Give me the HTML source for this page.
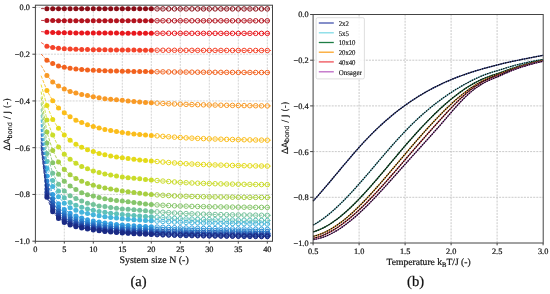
<!DOCTYPE html><html><head><meta charset="utf-8"><style>html,body{margin:0;padding:0;background:#fff;}svg{display:block;text-rendering:geometricPrecision;filter:blur(0.3px);}</style></head><body>
<svg width="550" height="294" viewBox="0 0 550 294">
<rect x="0" y="0" width="550" height="294" fill="#fff"/>
<g stroke="#c9c9c9" stroke-width="0.8" stroke-dasharray="2.0 1.1" fill="none"><line x1="64.3" y1="5.2" x2="64.3" y2="241.3"/><line x1="93.3" y1="5.2" x2="93.3" y2="241.3"/><line x1="122.3" y1="5.2" x2="122.3" y2="241.3"/><line x1="151.3" y1="5.2" x2="151.3" y2="241.3"/><line x1="180.3" y1="5.2" x2="180.3" y2="241.3"/><line x1="209.3" y1="5.2" x2="209.3" y2="241.3"/><line x1="238.3" y1="5.2" x2="238.3" y2="241.3"/><line x1="267.3" y1="5.2" x2="267.3" y2="241.3"/><line x1="35.4" y1="7.45" x2="272.5" y2="7.45"/><line x1="35.4" y1="54.2" x2="272.5" y2="54.2"/><line x1="35.4" y1="100.95" x2="272.5" y2="100.95"/><line x1="35.4" y1="147.7" x2="272.5" y2="147.7"/><line x1="35.4" y1="194.45" x2="272.5" y2="194.45"/></g>
<g stroke="#bcbcbc" stroke-width="0.8" stroke-dasharray="2.0 1.1" fill="none"><line x1="359.1" y1="14.5" x2="359.1" y2="243"/><line x1="405.1" y1="14.5" x2="405.1" y2="243"/><line x1="451.1" y1="14.5" x2="451.1" y2="243"/><line x1="497.1" y1="14.5" x2="497.1" y2="243"/><line x1="313.1" y1="60.2" x2="543.2" y2="60.2"/><line x1="313.1" y1="105.9" x2="543.2" y2="105.9"/><line x1="313.1" y1="151.6" x2="543.2" y2="151.6"/><line x1="313.1" y1="197.3" x2="543.2" y2="197.3"/></g>
<g><polyline points="41.1,8.6 46.9,8.7 52.7,8.72 58.5,8.74 64.3,8.76 70.1,8.77 75.9,8.78 81.7,8.79 87.5,8.79 93.3,8.8 99.1,8.81 104.9,8.81 110.7,8.82 116.5,8.83 122.3,8.83 128.1,8.84 133.9,8.85 139.7,8.85 145.5,8.86 151.3,8.86 157.1,8.86 162.9,8.87 168.7,8.87 174.5,8.87 180.3,8.88 186.1,8.88 191.9,8.88 197.7,8.88 203.5,8.89 209.3,8.89 215.1,8.89 220.9,8.89 226.7,8.89 232.5,8.89 238.3,8.89 244.1,8.9 249.9,8.9 255.7,8.9 261.5,8.9 267.3,8.9 271.07,8.9" fill="none" stroke="#8b0d17" stroke-width="0.85" stroke-dasharray="3.2 1.4"/><g fill="#8b0d17"><circle cx="46.9" cy="8.7" r="2.5"/><circle cx="52.7" cy="8.72" r="2.5"/><circle cx="58.5" cy="8.74" r="2.5"/><circle cx="64.3" cy="8.76" r="2.5"/><circle cx="70.1" cy="8.77" r="2.5"/><circle cx="75.9" cy="8.78" r="2.5"/><circle cx="81.7" cy="8.79" r="2.5"/><circle cx="87.5" cy="8.79" r="2.5"/><circle cx="93.3" cy="8.8" r="2.5"/><circle cx="99.1" cy="8.81" r="2.5"/><circle cx="104.9" cy="8.81" r="2.5"/><circle cx="110.7" cy="8.82" r="2.5"/><circle cx="116.5" cy="8.83" r="2.5"/><circle cx="122.3" cy="8.83" r="2.5"/><circle cx="128.1" cy="8.84" r="2.5"/><circle cx="133.9" cy="8.85" r="2.5"/><circle cx="139.7" cy="8.85" r="2.5"/><circle cx="145.5" cy="8.86" r="2.5"/><circle cx="151.3" cy="8.86" r="2.5"/></g><g fill="none" stroke="#8b0d17" stroke-width="1.0"><circle cx="157.1" cy="8.86" r="2.25"/><circle cx="162.9" cy="8.87" r="2.25"/><circle cx="168.7" cy="8.87" r="2.25"/><circle cx="174.5" cy="8.87" r="2.25"/><circle cx="180.3" cy="8.88" r="2.25"/><circle cx="186.1" cy="8.88" r="2.25"/><circle cx="191.9" cy="8.88" r="2.25"/><circle cx="197.7" cy="8.88" r="2.25"/><circle cx="203.5" cy="8.89" r="2.25"/><circle cx="209.3" cy="8.89" r="2.25"/><circle cx="215.1" cy="8.89" r="2.25"/><circle cx="220.9" cy="8.89" r="2.25"/><circle cx="226.7" cy="8.89" r="2.25"/><circle cx="232.5" cy="8.89" r="2.25"/><circle cx="238.3" cy="8.89" r="2.25"/><circle cx="244.1" cy="8.9" r="2.25"/><circle cx="249.9" cy="8.9" r="2.25"/><circle cx="255.7" cy="8.9" r="2.25"/><circle cx="261.5" cy="8.9" r="2.25"/><circle cx="267.3" cy="8.9" r="2.25"/></g><polyline points="41.1,20.4 46.9,20.6 52.7,20.62 58.5,20.64 64.3,20.66 70.1,20.67 75.9,20.68 81.7,20.69 87.5,20.69 93.3,20.7 99.1,20.71 104.9,20.71 110.7,20.72 116.5,20.73 122.3,20.73 128.1,20.74 133.9,20.75 139.7,20.75 145.5,20.76 151.3,20.76 157.1,20.76 162.9,20.77 168.7,20.77 174.5,20.77 180.3,20.78 186.1,20.78 191.9,20.78 197.7,20.78 203.5,20.79 209.3,20.79 215.1,20.79 220.9,20.79 226.7,20.79 232.5,20.79 238.3,20.79 244.1,20.8 249.9,20.8 255.7,20.8 261.5,20.8 267.3,20.8 271.07,20.8" fill="none" stroke="#b3141f" stroke-width="0.85" stroke-dasharray="3.2 1.4"/><g fill="#b3141f"><circle cx="46.9" cy="20.6" r="2.5"/><circle cx="52.7" cy="20.62" r="2.5"/><circle cx="58.5" cy="20.64" r="2.5"/><circle cx="64.3" cy="20.66" r="2.5"/><circle cx="70.1" cy="20.67" r="2.5"/><circle cx="75.9" cy="20.68" r="2.5"/><circle cx="81.7" cy="20.69" r="2.5"/><circle cx="87.5" cy="20.69" r="2.5"/><circle cx="93.3" cy="20.7" r="2.5"/><circle cx="99.1" cy="20.71" r="2.5"/><circle cx="104.9" cy="20.71" r="2.5"/><circle cx="110.7" cy="20.72" r="2.5"/><circle cx="116.5" cy="20.73" r="2.5"/><circle cx="122.3" cy="20.73" r="2.5"/><circle cx="128.1" cy="20.74" r="2.5"/><circle cx="133.9" cy="20.75" r="2.5"/><circle cx="139.7" cy="20.75" r="2.5"/><circle cx="145.5" cy="20.76" r="2.5"/><circle cx="151.3" cy="20.76" r="2.5"/></g><g fill="none" stroke="#b3141f" stroke-width="1.0"><circle cx="157.1" cy="20.76" r="2.25"/><circle cx="162.9" cy="20.77" r="2.25"/><circle cx="168.7" cy="20.77" r="2.25"/><circle cx="174.5" cy="20.77" r="2.25"/><circle cx="180.3" cy="20.78" r="2.25"/><circle cx="186.1" cy="20.78" r="2.25"/><circle cx="191.9" cy="20.78" r="2.25"/><circle cx="197.7" cy="20.78" r="2.25"/><circle cx="203.5" cy="20.79" r="2.25"/><circle cx="209.3" cy="20.79" r="2.25"/><circle cx="215.1" cy="20.79" r="2.25"/><circle cx="220.9" cy="20.79" r="2.25"/><circle cx="226.7" cy="20.79" r="2.25"/><circle cx="232.5" cy="20.79" r="2.25"/><circle cx="238.3" cy="20.79" r="2.25"/><circle cx="244.1" cy="20.8" r="2.25"/><circle cx="249.9" cy="20.8" r="2.25"/><circle cx="255.7" cy="20.8" r="2.25"/><circle cx="261.5" cy="20.8" r="2.25"/><circle cx="267.3" cy="20.8" r="2.25"/></g><polyline points="41.1,31.6 46.9,32.2 52.7,32.6 58.5,32.73 64.3,32.8 70.1,32.85 75.9,32.9 81.7,32.94 87.5,32.97 93.3,33 99.1,33.03 104.9,33.06 110.7,33.09 116.5,33.12 122.3,33.14 128.1,33.17 133.9,33.19 139.7,33.21 145.5,33.23 151.3,33.24 157.1,33.26 162.9,33.27 168.7,33.28 174.5,33.3 180.3,33.31 186.1,33.32 191.9,33.32 197.7,33.33 203.5,33.34 209.3,33.35 215.1,33.35 220.9,33.36 226.7,33.37 232.5,33.37 238.3,33.38 244.1,33.38 249.9,33.39 255.7,33.39 261.5,33.4 267.3,33.4 271.07,33.4" fill="none" stroke="#e8181e" stroke-width="0.85" stroke-dasharray="3.2 1.4"/><g fill="#e8181e"><circle cx="46.9" cy="32.2" r="2.5"/><circle cx="52.7" cy="32.6" r="2.5"/><circle cx="58.5" cy="32.73" r="2.5"/><circle cx="64.3" cy="32.8" r="2.5"/><circle cx="70.1" cy="32.85" r="2.5"/><circle cx="75.9" cy="32.9" r="2.5"/><circle cx="81.7" cy="32.94" r="2.5"/><circle cx="87.5" cy="32.97" r="2.5"/><circle cx="93.3" cy="33" r="2.5"/><circle cx="99.1" cy="33.03" r="2.5"/><circle cx="104.9" cy="33.06" r="2.5"/><circle cx="110.7" cy="33.09" r="2.5"/><circle cx="116.5" cy="33.12" r="2.5"/><circle cx="122.3" cy="33.14" r="2.5"/><circle cx="128.1" cy="33.17" r="2.5"/><circle cx="133.9" cy="33.19" r="2.5"/><circle cx="139.7" cy="33.21" r="2.5"/><circle cx="145.5" cy="33.23" r="2.5"/><circle cx="151.3" cy="33.24" r="2.5"/></g><g fill="none" stroke="#e8181e" stroke-width="1.0"><circle cx="157.1" cy="33.26" r="2.25"/><circle cx="162.9" cy="33.27" r="2.25"/><circle cx="168.7" cy="33.28" r="2.25"/><circle cx="174.5" cy="33.3" r="2.25"/><circle cx="180.3" cy="33.31" r="2.25"/><circle cx="186.1" cy="33.32" r="2.25"/><circle cx="191.9" cy="33.32" r="2.25"/><circle cx="197.7" cy="33.33" r="2.25"/><circle cx="203.5" cy="33.34" r="2.25"/><circle cx="209.3" cy="33.35" r="2.25"/><circle cx="215.1" cy="33.35" r="2.25"/><circle cx="220.9" cy="33.36" r="2.25"/><circle cx="226.7" cy="33.37" r="2.25"/><circle cx="232.5" cy="33.37" r="2.25"/><circle cx="238.3" cy="33.38" r="2.25"/><circle cx="244.1" cy="33.38" r="2.25"/><circle cx="249.9" cy="33.39" r="2.25"/><circle cx="255.7" cy="33.39" r="2.25"/><circle cx="261.5" cy="33.4" r="2.25"/><circle cx="267.3" cy="33.4" r="2.25"/></g><polyline points="41.1,42.5 46.9,46.2 52.7,47.5 58.5,48.2 64.3,48.7 70.1,49.1 75.9,49.34 81.7,49.5 87.5,49.61 93.3,49.7 99.1,49.78 104.9,49.85 110.7,49.92 116.5,49.97 122.3,50.02 128.1,50.06 133.9,50.1 139.7,50.14 145.5,50.17 151.3,50.2 157.1,50.23 162.9,50.25 168.7,50.27 174.5,50.3 180.3,50.31 186.1,50.33 191.9,50.35 197.7,50.37 203.5,50.38 209.3,50.4 215.1,50.41 220.9,50.42 226.7,50.43 232.5,50.44 238.3,50.45 244.1,50.46 249.9,50.47 255.7,50.48 261.5,50.49 267.3,50.5 271.07,50.5" fill="none" stroke="#f4432a" stroke-width="0.85" stroke-dasharray="3.2 1.4"/><g fill="#f4432a"><circle cx="46.9" cy="46.2" r="2.5"/><circle cx="52.7" cy="47.5" r="2.5"/><circle cx="58.5" cy="48.2" r="2.5"/><circle cx="64.3" cy="48.7" r="2.5"/><circle cx="70.1" cy="49.1" r="2.5"/><circle cx="75.9" cy="49.34" r="2.5"/><circle cx="81.7" cy="49.5" r="2.5"/><circle cx="87.5" cy="49.61" r="2.5"/><circle cx="93.3" cy="49.7" r="2.5"/><circle cx="99.1" cy="49.78" r="2.5"/><circle cx="104.9" cy="49.85" r="2.5"/><circle cx="110.7" cy="49.92" r="2.5"/><circle cx="116.5" cy="49.97" r="2.5"/><circle cx="122.3" cy="50.02" r="2.5"/><circle cx="128.1" cy="50.06" r="2.5"/><circle cx="133.9" cy="50.1" r="2.5"/><circle cx="139.7" cy="50.14" r="2.5"/><circle cx="145.5" cy="50.17" r="2.5"/><circle cx="151.3" cy="50.2" r="2.5"/></g><g fill="none" stroke="#f4432a" stroke-width="1.0"><circle cx="157.1" cy="50.23" r="2.25"/><circle cx="162.9" cy="50.25" r="2.25"/><circle cx="168.7" cy="50.27" r="2.25"/><circle cx="174.5" cy="50.3" r="2.25"/><circle cx="180.3" cy="50.31" r="2.25"/><circle cx="186.1" cy="50.33" r="2.25"/><circle cx="191.9" cy="50.35" r="2.25"/><circle cx="197.7" cy="50.37" r="2.25"/><circle cx="203.5" cy="50.38" r="2.25"/><circle cx="209.3" cy="50.4" r="2.25"/><circle cx="215.1" cy="50.41" r="2.25"/><circle cx="220.9" cy="50.42" r="2.25"/><circle cx="226.7" cy="50.43" r="2.25"/><circle cx="232.5" cy="50.44" r="2.25"/><circle cx="238.3" cy="50.45" r="2.25"/><circle cx="244.1" cy="50.46" r="2.25"/><circle cx="249.9" cy="50.47" r="2.25"/><circle cx="255.7" cy="50.48" r="2.25"/><circle cx="261.5" cy="50.49" r="2.25"/><circle cx="267.3" cy="50.5" r="2.25"/></g><polyline points="41.1,54 46.9,60.2 52.7,63.6 58.5,66 64.3,67.3 70.1,68.2 75.9,69 81.7,69.4 87.5,70 93.3,70.3 99.1,70.54 104.9,70.74 110.7,70.92 116.5,71.07 122.3,71.2 128.1,71.32 133.9,71.43 139.7,71.53 145.5,71.62 151.3,71.7 157.1,71.78 162.9,71.86 168.7,71.93 174.5,72 180.3,72.06 186.1,72.11 191.9,72.16 197.7,72.2 203.5,72.24 209.3,72.27 215.1,72.3 220.9,72.33 226.7,72.36 232.5,72.38 238.3,72.41 244.1,72.43 249.9,72.45 255.7,72.47 261.5,72.48 267.3,72.5 271.07,72.5" fill="none" stroke="#f2621e" stroke-width="0.85" stroke-dasharray="3.2 1.4"/><g fill="#f2621e"><circle cx="46.9" cy="60.2" r="2.5"/><circle cx="52.7" cy="63.6" r="2.5"/><circle cx="58.5" cy="66" r="2.5"/><circle cx="64.3" cy="67.3" r="2.5"/><circle cx="70.1" cy="68.2" r="2.5"/><circle cx="75.9" cy="69" r="2.5"/><circle cx="81.7" cy="69.4" r="2.5"/><circle cx="87.5" cy="70" r="2.5"/><circle cx="93.3" cy="70.3" r="2.5"/><circle cx="99.1" cy="70.54" r="2.5"/><circle cx="104.9" cy="70.74" r="2.5"/><circle cx="110.7" cy="70.92" r="2.5"/><circle cx="116.5" cy="71.07" r="2.5"/><circle cx="122.3" cy="71.2" r="2.5"/><circle cx="128.1" cy="71.32" r="2.5"/><circle cx="133.9" cy="71.43" r="2.5"/><circle cx="139.7" cy="71.53" r="2.5"/><circle cx="145.5" cy="71.62" r="2.5"/><circle cx="151.3" cy="71.7" r="2.5"/></g><g fill="none" stroke="#f2621e" stroke-width="1.0"><circle cx="157.1" cy="71.78" r="2.25"/><circle cx="162.9" cy="71.86" r="2.25"/><circle cx="168.7" cy="71.93" r="2.25"/><circle cx="174.5" cy="72" r="2.25"/><circle cx="180.3" cy="72.06" r="2.25"/><circle cx="186.1" cy="72.11" r="2.25"/><circle cx="191.9" cy="72.16" r="2.25"/><circle cx="197.7" cy="72.2" r="2.25"/><circle cx="203.5" cy="72.24" r="2.25"/><circle cx="209.3" cy="72.27" r="2.25"/><circle cx="215.1" cy="72.3" r="2.25"/><circle cx="220.9" cy="72.33" r="2.25"/><circle cx="226.7" cy="72.36" r="2.25"/><circle cx="232.5" cy="72.38" r="2.25"/><circle cx="238.3" cy="72.41" r="2.25"/><circle cx="244.1" cy="72.43" r="2.25"/><circle cx="249.9" cy="72.45" r="2.25"/><circle cx="255.7" cy="72.47" r="2.25"/><circle cx="261.5" cy="72.48" r="2.25"/><circle cx="267.3" cy="72.5" r="2.25"/></g><polyline points="41.1,65.4 46.9,75.4 52.7,82 58.5,86.1 64.3,89 70.1,91.4 75.9,93.1 81.7,94.6 87.5,95.6 93.3,96.7 99.1,97.8 104.9,98.7 110.7,99.29 116.5,99.8 122.3,100.35 128.1,100.9 133.9,101.47 139.7,102 145.5,102.43 151.3,102.8 157.1,103.14 162.9,103.46 168.7,103.74 174.5,103.98 180.3,104.2 186.1,104.39 191.9,104.55 197.7,104.7 203.5,104.84 209.3,104.97 215.1,105.09 220.9,105.21 226.7,105.31 232.5,105.41 238.3,105.51 244.1,105.6 249.9,105.68 255.7,105.76 261.5,105.83 267.3,105.9 271.07,105.9" fill="none" stroke="#f89a26" stroke-width="0.85" stroke-dasharray="3.2 1.4"/><g fill="#f89a26"><circle cx="46.9" cy="75.4" r="2.5"/><circle cx="52.7" cy="82" r="2.5"/><circle cx="58.5" cy="86.1" r="2.5"/><circle cx="64.3" cy="89" r="2.5"/><circle cx="70.1" cy="91.4" r="2.5"/><circle cx="75.9" cy="93.1" r="2.5"/><circle cx="81.7" cy="94.6" r="2.5"/><circle cx="87.5" cy="95.6" r="2.5"/><circle cx="93.3" cy="96.7" r="2.5"/><circle cx="99.1" cy="97.8" r="2.5"/><circle cx="104.9" cy="98.7" r="2.5"/><circle cx="110.7" cy="99.29" r="2.5"/><circle cx="116.5" cy="99.8" r="2.5"/><circle cx="122.3" cy="100.35" r="2.5"/><circle cx="128.1" cy="100.9" r="2.5"/><circle cx="133.9" cy="101.47" r="2.5"/><circle cx="139.7" cy="102" r="2.5"/><circle cx="145.5" cy="102.43" r="2.5"/><circle cx="151.3" cy="102.8" r="2.5"/></g><g fill="none" stroke="#f89a26" stroke-width="1.0"><circle cx="157.1" cy="103.14" r="2.25"/><circle cx="162.9" cy="103.46" r="2.25"/><circle cx="168.7" cy="103.74" r="2.25"/><circle cx="174.5" cy="103.98" r="2.25"/><circle cx="180.3" cy="104.2" r="2.25"/><circle cx="186.1" cy="104.39" r="2.25"/><circle cx="191.9" cy="104.55" r="2.25"/><circle cx="197.7" cy="104.7" r="2.25"/><circle cx="203.5" cy="104.84" r="2.25"/><circle cx="209.3" cy="104.97" r="2.25"/><circle cx="215.1" cy="105.09" r="2.25"/><circle cx="220.9" cy="105.21" r="2.25"/><circle cx="226.7" cy="105.31" r="2.25"/><circle cx="232.5" cy="105.41" r="2.25"/><circle cx="238.3" cy="105.51" r="2.25"/><circle cx="244.1" cy="105.6" r="2.25"/><circle cx="249.9" cy="105.68" r="2.25"/><circle cx="255.7" cy="105.76" r="2.25"/><circle cx="261.5" cy="105.83" r="2.25"/><circle cx="267.3" cy="105.9" r="2.25"/></g><polyline points="41.1,75.7 46.9,90.4 52.7,100.7 58.5,107.9 64.3,112.7 70.1,116.7 75.9,120.2 81.7,122.6 87.5,124.8 93.3,126.4 99.1,128.1 104.9,129.4 110.7,130.6 116.5,131.6 122.3,132.5 128.1,133.2 133.9,133.9 139.7,134.46 145.5,134.94 151.3,135.4 157.1,135.87 162.9,136.33 168.7,136.76 174.5,137.17 180.3,137.53 186.1,137.86 191.9,138.15 197.7,138.4 203.5,138.63 209.3,138.83 215.1,139.02 220.9,139.2 226.7,139.36 232.5,139.51 238.3,139.64 244.1,139.77 249.9,139.89 255.7,140 261.5,140.1 267.3,140.2 271.07,140.2" fill="none" stroke="#fbbd1b" stroke-width="0.85" stroke-dasharray="3.2 1.4"/><g fill="#fbbd1b"><circle cx="46.9" cy="90.4" r="2.5"/><circle cx="52.7" cy="100.7" r="2.5"/><circle cx="58.5" cy="107.9" r="2.5"/><circle cx="64.3" cy="112.7" r="2.5"/><circle cx="70.1" cy="116.7" r="2.5"/><circle cx="75.9" cy="120.2" r="2.5"/><circle cx="81.7" cy="122.6" r="2.5"/><circle cx="87.5" cy="124.8" r="2.5"/><circle cx="93.3" cy="126.4" r="2.5"/><circle cx="99.1" cy="128.1" r="2.5"/><circle cx="104.9" cy="129.4" r="2.5"/><circle cx="110.7" cy="130.6" r="2.5"/><circle cx="116.5" cy="131.6" r="2.5"/><circle cx="122.3" cy="132.5" r="2.5"/><circle cx="128.1" cy="133.2" r="2.5"/><circle cx="133.9" cy="133.9" r="2.5"/><circle cx="139.7" cy="134.46" r="2.5"/><circle cx="145.5" cy="134.94" r="2.5"/><circle cx="151.3" cy="135.4" r="2.5"/></g><g fill="none" stroke="#fbbd1b" stroke-width="1.0"><circle cx="157.1" cy="135.87" r="2.25"/><circle cx="162.9" cy="136.33" r="2.25"/><circle cx="168.7" cy="136.76" r="2.25"/><circle cx="174.5" cy="137.17" r="2.25"/><circle cx="180.3" cy="137.53" r="2.25"/><circle cx="186.1" cy="137.86" r="2.25"/><circle cx="191.9" cy="138.15" r="2.25"/><circle cx="197.7" cy="138.4" r="2.25"/><circle cx="203.5" cy="138.63" r="2.25"/><circle cx="209.3" cy="138.83" r="2.25"/><circle cx="215.1" cy="139.02" r="2.25"/><circle cx="220.9" cy="139.2" r="2.25"/><circle cx="226.7" cy="139.36" r="2.25"/><circle cx="232.5" cy="139.51" r="2.25"/><circle cx="238.3" cy="139.64" r="2.25"/><circle cx="244.1" cy="139.77" r="2.25"/><circle cx="249.9" cy="139.89" r="2.25"/><circle cx="255.7" cy="140" r="2.25"/><circle cx="261.5" cy="140.1" r="2.25"/><circle cx="267.3" cy="140.2" r="2.25"/></g><polyline points="41.1,84.59 46.9,105.6 52.7,119.5 58.5,128.3 64.3,134.9 70.1,140.3 75.9,144.3 81.7,147.3 87.5,149.8 93.3,151.6 99.1,153.4 104.9,154.8 110.7,155.9 116.5,156.9 122.3,157.8 128.1,158.6 133.9,159.3 139.7,159.92 145.5,160.47 151.3,161 157.1,161.53 162.9,162.04 168.7,162.52 174.5,162.97 180.3,163.37 186.1,163.72 191.9,164.03 197.7,164.3 203.5,164.53 209.3,164.75 215.1,164.94 220.9,165.12 226.7,165.28 232.5,165.43 238.3,165.56 244.1,165.69 249.9,165.8 255.7,165.91 261.5,166.01 267.3,166.1 271.07,166.1" fill="none" stroke="#e4da18" stroke-width="0.85" stroke-dasharray="3.2 1.4"/><g fill="#e4da18"><circle cx="46.9" cy="105.6" r="2.5"/><circle cx="52.7" cy="119.5" r="2.5"/><circle cx="58.5" cy="128.3" r="2.5"/><circle cx="64.3" cy="134.9" r="2.5"/><circle cx="70.1" cy="140.3" r="2.5"/><circle cx="75.9" cy="144.3" r="2.5"/><circle cx="81.7" cy="147.3" r="2.5"/><circle cx="87.5" cy="149.8" r="2.5"/><circle cx="93.3" cy="151.6" r="2.5"/><circle cx="99.1" cy="153.4" r="2.5"/><circle cx="104.9" cy="154.8" r="2.5"/><circle cx="110.7" cy="155.9" r="2.5"/><circle cx="116.5" cy="156.9" r="2.5"/><circle cx="122.3" cy="157.8" r="2.5"/><circle cx="128.1" cy="158.6" r="2.5"/><circle cx="133.9" cy="159.3" r="2.5"/><circle cx="139.7" cy="159.92" r="2.5"/><circle cx="145.5" cy="160.47" r="2.5"/><circle cx="151.3" cy="161" r="2.5"/></g><g fill="none" stroke="#e4da18" stroke-width="1.0"><circle cx="157.1" cy="161.53" r="2.25"/><circle cx="162.9" cy="162.04" r="2.25"/><circle cx="168.7" cy="162.52" r="2.25"/><circle cx="174.5" cy="162.97" r="2.25"/><circle cx="180.3" cy="163.37" r="2.25"/><circle cx="186.1" cy="163.72" r="2.25"/><circle cx="191.9" cy="164.03" r="2.25"/><circle cx="197.7" cy="164.3" r="2.25"/><circle cx="203.5" cy="164.53" r="2.25"/><circle cx="209.3" cy="164.75" r="2.25"/><circle cx="215.1" cy="164.94" r="2.25"/><circle cx="220.9" cy="165.12" r="2.25"/><circle cx="226.7" cy="165.28" r="2.25"/><circle cx="232.5" cy="165.43" r="2.25"/><circle cx="238.3" cy="165.56" r="2.25"/><circle cx="244.1" cy="165.69" r="2.25"/><circle cx="249.9" cy="165.8" r="2.25"/><circle cx="255.7" cy="165.91" r="2.25"/><circle cx="261.5" cy="166.01" r="2.25"/><circle cx="267.3" cy="166.1" r="2.25"/></g><polyline points="41.1,91.6 46.9,119.9 52.7,135 58.5,147 64.3,154.3 70.1,159.2 75.9,163.3 81.7,166.4 87.5,168.8 93.3,171.1 99.1,172.5 104.9,173.9 110.7,175 116.5,175.9 122.3,176.9 128.1,177.7 133.9,178.2 139.7,178.8 145.5,179.43 151.3,180 157.1,180.53 162.9,181.05 168.7,181.54 174.5,181.97 180.3,182.36 186.1,182.69 191.9,182.97 197.7,183.2 203.5,183.4 209.3,183.57 215.1,183.73 220.9,183.88 226.7,184 232.5,184.12 238.3,184.22 244.1,184.32 249.9,184.4 255.7,184.47 261.5,184.54 267.3,184.6 271.07,184.6" fill="none" stroke="#cadc2a" stroke-width="0.85" stroke-dasharray="3.2 1.4"/><g fill="#cadc2a"><circle cx="46.9" cy="119.9" r="2.5"/><circle cx="52.7" cy="135" r="2.5"/><circle cx="58.5" cy="147" r="2.5"/><circle cx="64.3" cy="154.3" r="2.5"/><circle cx="70.1" cy="159.2" r="2.5"/><circle cx="75.9" cy="163.3" r="2.5"/><circle cx="81.7" cy="166.4" r="2.5"/><circle cx="87.5" cy="168.8" r="2.5"/><circle cx="93.3" cy="171.1" r="2.5"/><circle cx="99.1" cy="172.5" r="2.5"/><circle cx="104.9" cy="173.9" r="2.5"/><circle cx="110.7" cy="175" r="2.5"/><circle cx="116.5" cy="175.9" r="2.5"/><circle cx="122.3" cy="176.9" r="2.5"/><circle cx="128.1" cy="177.7" r="2.5"/><circle cx="133.9" cy="178.2" r="2.5"/><circle cx="139.7" cy="178.8" r="2.5"/><circle cx="145.5" cy="179.43" r="2.5"/><circle cx="151.3" cy="180" r="2.5"/></g><g fill="none" stroke="#cadc2a" stroke-width="1.0"><circle cx="157.1" cy="180.53" r="2.25"/><circle cx="162.9" cy="181.05" r="2.25"/><circle cx="168.7" cy="181.54" r="2.25"/><circle cx="174.5" cy="181.97" r="2.25"/><circle cx="180.3" cy="182.36" r="2.25"/><circle cx="186.1" cy="182.69" r="2.25"/><circle cx="191.9" cy="182.97" r="2.25"/><circle cx="197.7" cy="183.2" r="2.25"/><circle cx="203.5" cy="183.4" r="2.25"/><circle cx="209.3" cy="183.57" r="2.25"/><circle cx="215.1" cy="183.73" r="2.25"/><circle cx="220.9" cy="183.88" r="2.25"/><circle cx="226.7" cy="184" r="2.25"/><circle cx="232.5" cy="184.12" r="2.25"/><circle cx="238.3" cy="184.22" r="2.25"/><circle cx="244.1" cy="184.32" r="2.25"/><circle cx="249.9" cy="184.4" r="2.25"/><circle cx="255.7" cy="184.47" r="2.25"/><circle cx="261.5" cy="184.54" r="2.25"/><circle cx="267.3" cy="184.6" r="2.25"/></g><polyline points="41.1,97.44 46.9,132 52.7,150.4 58.5,162 64.3,169.6 70.1,174.8 75.9,178.4 81.7,181.2 87.5,183.4 93.3,185.3 99.1,186.8 104.9,188.1 110.7,189.1 116.5,189.9 122.3,191 128.1,191.8 133.9,192.5 139.7,193.25 145.5,193.95 151.3,194.5 157.1,194.92 162.9,195.28 168.7,195.59 174.5,195.86 180.3,196.09 186.1,196.29 191.9,196.45 197.7,196.6 203.5,196.73 209.3,196.84 215.1,196.94 220.9,197.04 226.7,197.12 232.5,197.19 238.3,197.26 244.1,197.32 249.9,197.37 255.7,197.42 261.5,197.46 267.3,197.5 271.07,197.5" fill="none" stroke="#a8cf40" stroke-width="0.85" stroke-dasharray="3.2 1.4"/><g fill="#a8cf40"><circle cx="46.9" cy="132" r="2.5"/><circle cx="52.7" cy="150.4" r="2.5"/><circle cx="58.5" cy="162" r="2.5"/><circle cx="64.3" cy="169.6" r="2.5"/><circle cx="70.1" cy="174.8" r="2.5"/><circle cx="75.9" cy="178.4" r="2.5"/><circle cx="81.7" cy="181.2" r="2.5"/><circle cx="87.5" cy="183.4" r="2.5"/><circle cx="93.3" cy="185.3" r="2.5"/><circle cx="99.1" cy="186.8" r="2.5"/><circle cx="104.9" cy="188.1" r="2.5"/><circle cx="110.7" cy="189.1" r="2.5"/><circle cx="116.5" cy="189.9" r="2.5"/><circle cx="122.3" cy="191" r="2.5"/><circle cx="128.1" cy="191.8" r="2.5"/><circle cx="133.9" cy="192.5" r="2.5"/><circle cx="139.7" cy="193.25" r="2.5"/><circle cx="145.5" cy="193.95" r="2.5"/><circle cx="151.3" cy="194.5" r="2.5"/></g><g fill="none" stroke="#a8cf40" stroke-width="1.0"><circle cx="157.1" cy="194.92" r="2.25"/><circle cx="162.9" cy="195.28" r="2.25"/><circle cx="168.7" cy="195.59" r="2.25"/><circle cx="174.5" cy="195.86" r="2.25"/><circle cx="180.3" cy="196.09" r="2.25"/><circle cx="186.1" cy="196.29" r="2.25"/><circle cx="191.9" cy="196.45" r="2.25"/><circle cx="197.7" cy="196.6" r="2.25"/><circle cx="203.5" cy="196.73" r="2.25"/><circle cx="209.3" cy="196.84" r="2.25"/><circle cx="215.1" cy="196.94" r="2.25"/><circle cx="220.9" cy="197.04" r="2.25"/><circle cx="226.7" cy="197.12" r="2.25"/><circle cx="232.5" cy="197.19" r="2.25"/><circle cx="238.3" cy="197.26" r="2.25"/><circle cx="244.1" cy="197.32" r="2.25"/><circle cx="249.9" cy="197.37" r="2.25"/><circle cx="255.7" cy="197.42" r="2.25"/><circle cx="261.5" cy="197.46" r="2.25"/><circle cx="267.3" cy="197.5" r="2.25"/></g><polyline points="41.1,103.29 46.9,142.9 52.7,162.7 58.5,174.15 64.3,181.3 70.1,186.1 75.9,189.5 81.7,192.7 87.5,194.7 93.3,196.1 99.1,197.5 104.9,198.7 110.7,199.8 116.5,200.5 122.3,201.1 128.1,201.8 133.9,202.5 139.7,203.25 145.5,203.96 151.3,204.5 157.1,204.91 162.9,205.25 168.7,205.54 174.5,205.79 180.3,206.01 186.1,206.2 191.9,206.36 197.7,206.5 203.5,206.63 209.3,206.74 215.1,206.84 220.9,206.93 226.7,207.01 232.5,207.09 238.3,207.15 244.1,207.21 249.9,207.27 255.7,207.32 261.5,207.36 267.3,207.4 271.07,207.4" fill="none" stroke="#86c56a" stroke-width="0.85" stroke-dasharray="3.2 1.4"/><g fill="#86c56a"><circle cx="46.9" cy="142.9" r="2.5"/><circle cx="52.7" cy="162.7" r="2.5"/><circle cx="58.5" cy="174.15" r="2.5"/><circle cx="64.3" cy="181.3" r="2.5"/><circle cx="70.1" cy="186.1" r="2.5"/><circle cx="75.9" cy="189.5" r="2.5"/><circle cx="81.7" cy="192.7" r="2.5"/><circle cx="87.5" cy="194.7" r="2.5"/><circle cx="93.3" cy="196.1" r="2.5"/><circle cx="99.1" cy="197.5" r="2.5"/><circle cx="104.9" cy="198.7" r="2.5"/><circle cx="110.7" cy="199.8" r="2.5"/><circle cx="116.5" cy="200.5" r="2.5"/><circle cx="122.3" cy="201.1" r="2.5"/><circle cx="128.1" cy="201.8" r="2.5"/><circle cx="133.9" cy="202.5" r="2.5"/><circle cx="139.7" cy="203.25" r="2.5"/><circle cx="145.5" cy="203.96" r="2.5"/><circle cx="151.3" cy="204.5" r="2.5"/></g><g fill="none" stroke="#86c56a" stroke-width="1.0"><circle cx="157.1" cy="204.91" r="2.25"/><circle cx="162.9" cy="205.25" r="2.25"/><circle cx="168.7" cy="205.54" r="2.25"/><circle cx="174.5" cy="205.79" r="2.25"/><circle cx="180.3" cy="206.01" r="2.25"/><circle cx="186.1" cy="206.2" r="2.25"/><circle cx="191.9" cy="206.36" r="2.25"/><circle cx="197.7" cy="206.5" r="2.25"/><circle cx="203.5" cy="206.63" r="2.25"/><circle cx="209.3" cy="206.74" r="2.25"/><circle cx="215.1" cy="206.84" r="2.25"/><circle cx="220.9" cy="206.93" r="2.25"/><circle cx="226.7" cy="207.01" r="2.25"/><circle cx="232.5" cy="207.09" r="2.25"/><circle cx="238.3" cy="207.15" r="2.25"/><circle cx="244.1" cy="207.21" r="2.25"/><circle cx="249.9" cy="207.27" r="2.25"/><circle cx="255.7" cy="207.32" r="2.25"/><circle cx="261.5" cy="207.36" r="2.25"/><circle cx="267.3" cy="207.4" r="2.25"/></g><polyline points="41.1,109.13 46.9,153.5 52.7,173.23 58.5,184.14 64.3,190.9 70.1,195.7 75.9,198.4 81.7,201.1 87.5,203.2 93.3,204.6 99.1,205.9 104.9,206.6 110.7,207.6 116.5,208.2 122.3,208.9 128.1,209.3 133.9,209.7 139.7,210.26 145.5,210.87 151.3,211.4 157.1,211.86 162.9,212.28 168.7,212.66 174.5,213 180.3,213.3 186.1,213.57 191.9,213.8 197.7,214 203.5,214.17 209.3,214.33 215.1,214.48 220.9,214.6 226.7,214.72 232.5,214.83 238.3,214.93 244.1,215.01 249.9,215.1 255.7,215.17 261.5,215.24 267.3,215.3 271.07,215.3" fill="none" stroke="#74c29a" stroke-width="0.85" stroke-dasharray="3.2 1.4"/><g fill="#74c29a"><circle cx="46.9" cy="153.5" r="2.5"/><circle cx="52.7" cy="173.23" r="2.5"/><circle cx="58.5" cy="184.14" r="2.5"/><circle cx="64.3" cy="190.9" r="2.5"/><circle cx="70.1" cy="195.7" r="2.5"/><circle cx="75.9" cy="198.4" r="2.5"/><circle cx="81.7" cy="201.1" r="2.5"/><circle cx="87.5" cy="203.2" r="2.5"/><circle cx="93.3" cy="204.6" r="2.5"/><circle cx="99.1" cy="205.9" r="2.5"/><circle cx="104.9" cy="206.6" r="2.5"/><circle cx="110.7" cy="207.6" r="2.5"/><circle cx="116.5" cy="208.2" r="2.5"/><circle cx="122.3" cy="208.9" r="2.5"/><circle cx="128.1" cy="209.3" r="2.5"/><circle cx="133.9" cy="209.7" r="2.5"/><circle cx="139.7" cy="210.26" r="2.5"/><circle cx="145.5" cy="210.87" r="2.5"/><circle cx="151.3" cy="211.4" r="2.5"/></g><g fill="none" stroke="#74c29a" stroke-width="1.0"><circle cx="157.1" cy="211.86" r="2.25"/><circle cx="162.9" cy="212.28" r="2.25"/><circle cx="168.7" cy="212.66" r="2.25"/><circle cx="174.5" cy="213" r="2.25"/><circle cx="180.3" cy="213.3" r="2.25"/><circle cx="186.1" cy="213.57" r="2.25"/><circle cx="191.9" cy="213.8" r="2.25"/><circle cx="197.7" cy="214" r="2.25"/><circle cx="203.5" cy="214.17" r="2.25"/><circle cx="209.3" cy="214.33" r="2.25"/><circle cx="215.1" cy="214.48" r="2.25"/><circle cx="220.9" cy="214.6" r="2.25"/><circle cx="226.7" cy="214.72" r="2.25"/><circle cx="232.5" cy="214.83" r="2.25"/><circle cx="238.3" cy="214.93" r="2.25"/><circle cx="244.1" cy="215.01" r="2.25"/><circle cx="249.9" cy="215.1" r="2.25"/><circle cx="255.7" cy="215.17" r="2.25"/><circle cx="261.5" cy="215.24" r="2.25"/><circle cx="267.3" cy="215.3" r="2.25"/></g><polyline points="41.1,114.98 46.9,161.6 52.7,180.38 58.5,191.05 64.3,197.7 70.1,202.5 75.9,205.2 81.7,207.3 87.5,208.9 93.3,210.3 99.1,211.44 104.9,212.36 110.7,213.15 116.5,213.84 122.3,214.45 128.1,215 133.9,215.51 139.7,215.97 145.5,216.4 151.3,216.8 157.1,217.19 162.9,217.59 168.7,217.96 174.5,218.31 180.3,218.61 186.1,218.88 191.9,219.11 197.7,219.3 203.5,219.46 209.3,219.61 215.1,219.74 220.9,219.86 226.7,219.97 232.5,220.07 238.3,220.16 244.1,220.24 249.9,220.32 255.7,220.38 261.5,220.44 267.3,220.5 271.07,220.5" fill="none" stroke="#5fc1b8" stroke-width="0.85" stroke-dasharray="3.2 1.4"/><g fill="#5fc1b8"><circle cx="46.9" cy="161.6" r="2.5"/><circle cx="52.7" cy="180.38" r="2.5"/><circle cx="58.5" cy="191.05" r="2.5"/><circle cx="64.3" cy="197.7" r="2.5"/><circle cx="70.1" cy="202.5" r="2.5"/><circle cx="75.9" cy="205.2" r="2.5"/><circle cx="81.7" cy="207.3" r="2.5"/><circle cx="87.5" cy="208.9" r="2.5"/><circle cx="93.3" cy="210.3" r="2.5"/><circle cx="99.1" cy="211.44" r="2.5"/><circle cx="104.9" cy="212.36" r="2.5"/><circle cx="110.7" cy="213.15" r="2.5"/><circle cx="116.5" cy="213.84" r="2.5"/><circle cx="122.3" cy="214.45" r="2.5"/><circle cx="128.1" cy="215" r="2.5"/><circle cx="133.9" cy="215.51" r="2.5"/><circle cx="139.7" cy="215.97" r="2.5"/><circle cx="145.5" cy="216.4" r="2.5"/><circle cx="151.3" cy="216.8" r="2.5"/></g><g fill="none" stroke="#5fc1b8" stroke-width="1.0"><circle cx="157.1" cy="217.19" r="2.25"/><circle cx="162.9" cy="217.59" r="2.25"/><circle cx="168.7" cy="217.96" r="2.25"/><circle cx="174.5" cy="218.31" r="2.25"/><circle cx="180.3" cy="218.61" r="2.25"/><circle cx="186.1" cy="218.88" r="2.25"/><circle cx="191.9" cy="219.11" r="2.25"/><circle cx="197.7" cy="219.3" r="2.25"/><circle cx="203.5" cy="219.46" r="2.25"/><circle cx="209.3" cy="219.61" r="2.25"/><circle cx="215.1" cy="219.74" r="2.25"/><circle cx="220.9" cy="219.86" r="2.25"/><circle cx="226.7" cy="219.97" r="2.25"/><circle cx="232.5" cy="220.07" r="2.25"/><circle cx="238.3" cy="220.16" r="2.25"/><circle cx="244.1" cy="220.24" r="2.25"/><circle cx="249.9" cy="220.32" r="2.25"/><circle cx="255.7" cy="220.38" r="2.25"/><circle cx="261.5" cy="220.44" r="2.25"/><circle cx="267.3" cy="220.5" r="2.25"/></g><polyline points="41.1,119.65 46.9,168.4 52.7,186.55 58.5,196.81 64.3,203.2 70.1,207.8 75.9,210.3 81.7,212.15 87.5,213.59 93.3,214.8 99.1,215.83 104.9,216.7 110.7,217.45 116.5,218.11 122.3,218.69 128.1,219.2 133.9,219.66 139.7,220.08 145.5,220.46 151.3,220.8 157.1,221.12 162.9,221.43 168.7,221.72 174.5,221.99 180.3,222.23 186.1,222.44 191.9,222.63 197.7,222.8 203.5,222.95 209.3,223.09 215.1,223.21 220.9,223.33 226.7,223.44 232.5,223.54 238.3,223.63 244.1,223.71 249.9,223.79 255.7,223.87 261.5,223.94 267.3,224 271.07,224" fill="none" stroke="#44b5dc" stroke-width="0.85" stroke-dasharray="3.2 1.4"/><g fill="#44b5dc"><circle cx="46.9" cy="168.4" r="2.5"/><circle cx="52.7" cy="186.55" r="2.5"/><circle cx="58.5" cy="196.81" r="2.5"/><circle cx="64.3" cy="203.2" r="2.5"/><circle cx="70.1" cy="207.8" r="2.5"/><circle cx="75.9" cy="210.3" r="2.5"/><circle cx="81.7" cy="212.15" r="2.5"/><circle cx="87.5" cy="213.59" r="2.5"/><circle cx="93.3" cy="214.8" r="2.5"/><circle cx="99.1" cy="215.83" r="2.5"/><circle cx="104.9" cy="216.7" r="2.5"/><circle cx="110.7" cy="217.45" r="2.5"/><circle cx="116.5" cy="218.11" r="2.5"/><circle cx="122.3" cy="218.69" r="2.5"/><circle cx="128.1" cy="219.2" r="2.5"/><circle cx="133.9" cy="219.66" r="2.5"/><circle cx="139.7" cy="220.08" r="2.5"/><circle cx="145.5" cy="220.46" r="2.5"/><circle cx="151.3" cy="220.8" r="2.5"/></g><g fill="none" stroke="#44b5dc" stroke-width="1.0"><circle cx="157.1" cy="221.12" r="2.25"/><circle cx="162.9" cy="221.43" r="2.25"/><circle cx="168.7" cy="221.72" r="2.25"/><circle cx="174.5" cy="221.99" r="2.25"/><circle cx="180.3" cy="222.23" r="2.25"/><circle cx="186.1" cy="222.44" r="2.25"/><circle cx="191.9" cy="222.63" r="2.25"/><circle cx="197.7" cy="222.8" r="2.25"/><circle cx="203.5" cy="222.95" r="2.25"/><circle cx="209.3" cy="223.09" r="2.25"/><circle cx="215.1" cy="223.21" r="2.25"/><circle cx="220.9" cy="223.33" r="2.25"/><circle cx="226.7" cy="223.44" r="2.25"/><circle cx="232.5" cy="223.54" r="2.25"/><circle cx="238.3" cy="223.63" r="2.25"/><circle cx="244.1" cy="223.71" r="2.25"/><circle cx="249.9" cy="223.79" r="2.25"/><circle cx="255.7" cy="223.87" r="2.25"/><circle cx="261.5" cy="223.94" r="2.25"/><circle cx="267.3" cy="224" r="2.25"/></g><polyline points="41.1,124.33 46.9,176.12 52.7,194.38 58.5,203.74 64.3,209.41 70.1,213.23 75.9,216 81.7,218.08 87.5,219.69 93.3,220.99 99.1,222.06 104.9,222.96 110.7,223.73 116.5,224.39 122.3,224.95 128.1,225.43 133.9,225.85 139.7,226.21 145.5,226.53 151.3,226.82 157.1,227.07 162.9,227.29 168.7,227.49 174.5,227.67 180.3,227.83 186.1,227.98 191.9,228.12 197.7,228.25 203.5,228.37 209.3,228.48 215.1,228.59 220.9,228.69 226.7,228.78 232.5,228.87 238.3,228.95 244.1,229.03 249.9,229.1 255.7,229.17 261.5,229.24 267.3,229.31 271.07,229.31" fill="none" stroke="#34a0e0" stroke-width="0.85" stroke-dasharray="3.2 1.4"/><g fill="#34a0e0"><circle cx="46.9" cy="176.12" r="2.5"/><circle cx="52.7" cy="194.38" r="2.5"/><circle cx="58.5" cy="203.74" r="2.5"/><circle cx="64.3" cy="209.41" r="2.5"/><circle cx="70.1" cy="213.23" r="2.5"/><circle cx="75.9" cy="216" r="2.5"/><circle cx="81.7" cy="218.08" r="2.5"/><circle cx="87.5" cy="219.69" r="2.5"/><circle cx="93.3" cy="220.99" r="2.5"/><circle cx="99.1" cy="222.06" r="2.5"/><circle cx="104.9" cy="222.96" r="2.5"/><circle cx="110.7" cy="223.73" r="2.5"/><circle cx="116.5" cy="224.39" r="2.5"/><circle cx="122.3" cy="224.95" r="2.5"/><circle cx="128.1" cy="225.43" r="2.5"/><circle cx="133.9" cy="225.85" r="2.5"/><circle cx="139.7" cy="226.21" r="2.5"/><circle cx="145.5" cy="226.53" r="2.5"/><circle cx="151.3" cy="226.82" r="2.5"/></g><g fill="none" stroke="#34a0e0" stroke-width="1.0"><circle cx="157.1" cy="227.07" r="2.25"/><circle cx="162.9" cy="227.29" r="2.25"/><circle cx="168.7" cy="227.49" r="2.25"/><circle cx="174.5" cy="227.67" r="2.25"/><circle cx="180.3" cy="227.83" r="2.25"/><circle cx="186.1" cy="227.98" r="2.25"/><circle cx="191.9" cy="228.12" r="2.25"/><circle cx="197.7" cy="228.25" r="2.25"/><circle cx="203.5" cy="228.37" r="2.25"/><circle cx="209.3" cy="228.48" r="2.25"/><circle cx="215.1" cy="228.59" r="2.25"/><circle cx="220.9" cy="228.69" r="2.25"/><circle cx="226.7" cy="228.78" r="2.25"/><circle cx="232.5" cy="228.87" r="2.25"/><circle cx="238.3" cy="228.95" r="2.25"/><circle cx="244.1" cy="229.03" r="2.25"/><circle cx="249.9" cy="229.1" r="2.25"/><circle cx="255.7" cy="229.17" r="2.25"/><circle cx="261.5" cy="229.24" r="2.25"/><circle cx="267.3" cy="229.31" r="2.25"/></g><polyline points="41.1,129 46.9,181.11 52.7,198.73 58.5,207.61 64.3,212.96 70.1,216.52 75.9,219.08 81.7,221 87.5,222.51 93.3,223.72 99.1,224.73 104.9,225.59 110.7,226.32 116.5,226.95 122.3,227.48 128.1,227.94 133.9,228.34 139.7,228.68 145.5,228.99 151.3,229.26 157.1,229.49 162.9,229.7 168.7,229.89 174.5,230.06 180.3,230.22 186.1,230.36 191.9,230.49 197.7,230.61 203.5,230.73 209.3,230.83 215.1,230.93 220.9,231.02 226.7,231.11 232.5,231.19 238.3,231.27 244.1,231.35 249.9,231.42 255.7,231.48 261.5,231.55 267.3,231.61 271.07,231.61" fill="none" stroke="#2b84d0" stroke-width="0.85" stroke-dasharray="3.2 1.4"/><g fill="#2b84d0"><circle cx="46.9" cy="181.11" r="2.5"/><circle cx="52.7" cy="198.73" r="2.5"/><circle cx="58.5" cy="207.61" r="2.5"/><circle cx="64.3" cy="212.96" r="2.5"/><circle cx="70.1" cy="216.52" r="2.5"/><circle cx="75.9" cy="219.08" r="2.5"/><circle cx="81.7" cy="221" r="2.5"/><circle cx="87.5" cy="222.51" r="2.5"/><circle cx="93.3" cy="223.72" r="2.5"/><circle cx="99.1" cy="224.73" r="2.5"/><circle cx="104.9" cy="225.59" r="2.5"/><circle cx="110.7" cy="226.32" r="2.5"/><circle cx="116.5" cy="226.95" r="2.5"/><circle cx="122.3" cy="227.48" r="2.5"/><circle cx="128.1" cy="227.94" r="2.5"/><circle cx="133.9" cy="228.34" r="2.5"/><circle cx="139.7" cy="228.68" r="2.5"/><circle cx="145.5" cy="228.99" r="2.5"/><circle cx="151.3" cy="229.26" r="2.5"/></g><g fill="none" stroke="#2b84d0" stroke-width="1.0"><circle cx="157.1" cy="229.49" r="2.25"/><circle cx="162.9" cy="229.7" r="2.25"/><circle cx="168.7" cy="229.89" r="2.25"/><circle cx="174.5" cy="230.06" r="2.25"/><circle cx="180.3" cy="230.22" r="2.25"/><circle cx="186.1" cy="230.36" r="2.25"/><circle cx="191.9" cy="230.49" r="2.25"/><circle cx="197.7" cy="230.61" r="2.25"/><circle cx="203.5" cy="230.73" r="2.25"/><circle cx="209.3" cy="230.83" r="2.25"/><circle cx="215.1" cy="230.93" r="2.25"/><circle cx="220.9" cy="231.02" r="2.25"/><circle cx="226.7" cy="231.11" r="2.25"/><circle cx="232.5" cy="231.19" r="2.25"/><circle cx="238.3" cy="231.27" r="2.25"/><circle cx="244.1" cy="231.35" r="2.25"/><circle cx="249.9" cy="231.42" r="2.25"/><circle cx="255.7" cy="231.48" r="2.25"/><circle cx="261.5" cy="231.55" r="2.25"/><circle cx="267.3" cy="231.61" r="2.25"/></g><polyline points="41.1,133.68 46.9,185.37 52.7,202.33 58.5,210.75 64.3,215.79 70.1,219.11 75.9,221.47 81.7,223.25 87.5,224.65 93.3,225.79 99.1,226.75 104.9,227.57 110.7,228.26 116.5,228.86 122.3,229.37 128.1,229.81 133.9,230.19 139.7,230.52 145.5,230.81 151.3,231.07 157.1,231.29 162.9,231.5 168.7,231.68 174.5,231.84 180.3,231.99 186.1,232.13 191.9,232.26 197.7,232.37 203.5,232.48 209.3,232.58 215.1,232.68 220.9,232.77 226.7,232.85 232.5,232.93 238.3,233 244.1,233.07 249.9,233.14 255.7,233.2 261.5,233.26 267.3,233.31 271.07,233.31" fill="none" stroke="#2668be" stroke-width="0.85" stroke-dasharray="3.2 1.4"/><g fill="#2668be"><circle cx="46.9" cy="185.37" r="2.5"/><circle cx="52.7" cy="202.33" r="2.5"/><circle cx="58.5" cy="210.75" r="2.5"/><circle cx="64.3" cy="215.79" r="2.5"/><circle cx="70.1" cy="219.11" r="2.5"/><circle cx="75.9" cy="221.47" r="2.5"/><circle cx="81.7" cy="223.25" r="2.5"/><circle cx="87.5" cy="224.65" r="2.5"/><circle cx="93.3" cy="225.79" r="2.5"/><circle cx="99.1" cy="226.75" r="2.5"/><circle cx="104.9" cy="227.57" r="2.5"/><circle cx="110.7" cy="228.26" r="2.5"/><circle cx="116.5" cy="228.86" r="2.5"/><circle cx="122.3" cy="229.37" r="2.5"/><circle cx="128.1" cy="229.81" r="2.5"/><circle cx="133.9" cy="230.19" r="2.5"/><circle cx="139.7" cy="230.52" r="2.5"/><circle cx="145.5" cy="230.81" r="2.5"/><circle cx="151.3" cy="231.07" r="2.5"/></g><g fill="none" stroke="#2668be" stroke-width="1.0"><circle cx="157.1" cy="231.29" r="2.25"/><circle cx="162.9" cy="231.5" r="2.25"/><circle cx="168.7" cy="231.68" r="2.25"/><circle cx="174.5" cy="231.84" r="2.25"/><circle cx="180.3" cy="231.99" r="2.25"/><circle cx="186.1" cy="232.13" r="2.25"/><circle cx="191.9" cy="232.26" r="2.25"/><circle cx="197.7" cy="232.37" r="2.25"/><circle cx="203.5" cy="232.48" r="2.25"/><circle cx="209.3" cy="232.58" r="2.25"/><circle cx="215.1" cy="232.68" r="2.25"/><circle cx="220.9" cy="232.77" r="2.25"/><circle cx="226.7" cy="232.85" r="2.25"/><circle cx="232.5" cy="232.93" r="2.25"/><circle cx="238.3" cy="233" r="2.25"/><circle cx="244.1" cy="233.07" r="2.25"/><circle cx="249.9" cy="233.14" r="2.25"/><circle cx="255.7" cy="233.2" r="2.25"/><circle cx="261.5" cy="233.26" r="2.25"/><circle cx="267.3" cy="233.31" r="2.25"/></g><polyline points="41.1,137.65 46.9,189.04 52.7,205.33 58.5,213.31 64.3,218.05 70.1,221.14 75.9,223.32 81.7,224.97 87.5,226.28 93.3,227.35 99.1,228.25 104.9,229.03 110.7,229.7 116.5,230.27 122.3,230.76 128.1,231.19 133.9,231.55 139.7,231.87 145.5,232.15 151.3,232.4 157.1,232.62 162.9,232.81 168.7,232.99 174.5,233.15 180.3,233.3 186.1,233.44 191.9,233.56 197.7,233.67 203.5,233.78 209.3,233.88 215.1,233.97 220.9,234.05 226.7,234.13 232.5,234.21 238.3,234.28 244.1,234.34 249.9,234.41 255.7,234.47 261.5,234.52 267.3,234.57 271.07,234.57" fill="none" stroke="#2352ad" stroke-width="0.85" stroke-dasharray="3.2 1.4"/><g fill="#2352ad"><circle cx="46.9" cy="189.04" r="2.5"/><circle cx="52.7" cy="205.33" r="2.5"/><circle cx="58.5" cy="213.31" r="2.5"/><circle cx="64.3" cy="218.05" r="2.5"/><circle cx="70.1" cy="221.14" r="2.5"/><circle cx="75.9" cy="223.32" r="2.5"/><circle cx="81.7" cy="224.97" r="2.5"/><circle cx="87.5" cy="226.28" r="2.5"/><circle cx="93.3" cy="227.35" r="2.5"/><circle cx="99.1" cy="228.25" r="2.5"/><circle cx="104.9" cy="229.03" r="2.5"/><circle cx="110.7" cy="229.7" r="2.5"/><circle cx="116.5" cy="230.27" r="2.5"/><circle cx="122.3" cy="230.76" r="2.5"/><circle cx="128.1" cy="231.19" r="2.5"/><circle cx="133.9" cy="231.55" r="2.5"/><circle cx="139.7" cy="231.87" r="2.5"/><circle cx="145.5" cy="232.15" r="2.5"/><circle cx="151.3" cy="232.4" r="2.5"/></g><g fill="none" stroke="#2352ad" stroke-width="1.0"><circle cx="157.1" cy="232.62" r="2.25"/><circle cx="162.9" cy="232.81" r="2.25"/><circle cx="168.7" cy="232.99" r="2.25"/><circle cx="174.5" cy="233.15" r="2.25"/><circle cx="180.3" cy="233.3" r="2.25"/><circle cx="186.1" cy="233.44" r="2.25"/><circle cx="191.9" cy="233.56" r="2.25"/><circle cx="197.7" cy="233.67" r="2.25"/><circle cx="203.5" cy="233.78" r="2.25"/><circle cx="209.3" cy="233.88" r="2.25"/><circle cx="215.1" cy="233.97" r="2.25"/><circle cx="220.9" cy="234.05" r="2.25"/><circle cx="226.7" cy="234.13" r="2.25"/><circle cx="232.5" cy="234.21" r="2.25"/><circle cx="238.3" cy="234.28" r="2.25"/><circle cx="244.1" cy="234.34" r="2.25"/><circle cx="249.9" cy="234.41" r="2.25"/><circle cx="255.7" cy="234.47" r="2.25"/><circle cx="261.5" cy="234.52" r="2.25"/><circle cx="267.3" cy="234.57" r="2.25"/></g><polyline points="41.1,141.39 46.9,192.2 52.7,207.85 58.5,215.4 64.3,219.86 70.1,222.73 75.9,224.75 81.7,226.28 87.5,227.5 93.3,228.51 99.1,229.37 104.9,230.11 110.7,230.75 116.5,231.3 122.3,231.77 128.1,232.18 133.9,232.54 139.7,232.85 145.5,233.12 151.3,233.36 157.1,233.57 162.9,233.77 168.7,233.94 174.5,234.1 180.3,234.25 186.1,234.38 191.9,234.5 197.7,234.62 203.5,234.72 209.3,234.82 215.1,234.91 220.9,234.99 226.7,235.07 232.5,235.14 238.3,235.21 244.1,235.27 249.9,235.33 255.7,235.38 261.5,235.44 267.3,235.49 271.07,235.49" fill="none" stroke="#2042a0" stroke-width="0.85" stroke-dasharray="3.2 1.4"/><g fill="#2042a0"><circle cx="46.9" cy="192.2" r="2.5"/><circle cx="52.7" cy="207.85" r="2.5"/><circle cx="58.5" cy="215.4" r="2.5"/><circle cx="64.3" cy="219.86" r="2.5"/><circle cx="70.1" cy="222.73" r="2.5"/><circle cx="75.9" cy="224.75" r="2.5"/><circle cx="81.7" cy="226.28" r="2.5"/><circle cx="87.5" cy="227.5" r="2.5"/><circle cx="93.3" cy="228.51" r="2.5"/><circle cx="99.1" cy="229.37" r="2.5"/><circle cx="104.9" cy="230.11" r="2.5"/><circle cx="110.7" cy="230.75" r="2.5"/><circle cx="116.5" cy="231.3" r="2.5"/><circle cx="122.3" cy="231.77" r="2.5"/><circle cx="128.1" cy="232.18" r="2.5"/><circle cx="133.9" cy="232.54" r="2.5"/><circle cx="139.7" cy="232.85" r="2.5"/><circle cx="145.5" cy="233.12" r="2.5"/><circle cx="151.3" cy="233.36" r="2.5"/></g><g fill="none" stroke="#2042a0" stroke-width="1.0"><circle cx="157.1" cy="233.57" r="2.25"/><circle cx="162.9" cy="233.77" r="2.25"/><circle cx="168.7" cy="233.94" r="2.25"/><circle cx="174.5" cy="234.1" r="2.25"/><circle cx="180.3" cy="234.25" r="2.25"/><circle cx="186.1" cy="234.38" r="2.25"/><circle cx="191.9" cy="234.5" r="2.25"/><circle cx="197.7" cy="234.62" r="2.25"/><circle cx="203.5" cy="234.72" r="2.25"/><circle cx="209.3" cy="234.82" r="2.25"/><circle cx="215.1" cy="234.91" r="2.25"/><circle cx="220.9" cy="234.99" r="2.25"/><circle cx="226.7" cy="235.07" r="2.25"/><circle cx="232.5" cy="235.14" r="2.25"/><circle cx="238.3" cy="235.21" r="2.25"/><circle cx="244.1" cy="235.27" r="2.25"/><circle cx="249.9" cy="235.33" r="2.25"/><circle cx="255.7" cy="235.38" r="2.25"/><circle cx="261.5" cy="235.44" r="2.25"/><circle cx="267.3" cy="235.49" r="2.25"/></g><polyline points="41.1,144.89 46.9,194.94 52.7,209.95 58.5,217.11 64.3,221.31 70.1,223.98 75.9,225.84 81.7,227.26 87.5,228.4 93.3,229.35 99.1,230.17 104.9,230.89 110.7,231.5 116.5,232.03 122.3,232.49 128.1,232.89 133.9,233.23 139.7,233.53 145.5,233.8 151.3,234.03 157.1,234.24 162.9,234.43 168.7,234.61 174.5,234.77 180.3,234.92 186.1,235.05 191.9,235.17 197.7,235.29 203.5,235.39 209.3,235.49 215.1,235.57 220.9,235.66 226.7,235.73 232.5,235.8 238.3,235.87 244.1,235.93 249.9,235.98 255.7,236.03 261.5,236.08 267.3,236.13 271.07,236.13" fill="none" stroke="#1e3592" stroke-width="0.85" stroke-dasharray="3.2 1.4"/><g fill="#1e3592"><circle cx="46.9" cy="194.94" r="2.5"/><circle cx="52.7" cy="209.95" r="2.5"/><circle cx="58.5" cy="217.11" r="2.5"/><circle cx="64.3" cy="221.31" r="2.5"/><circle cx="70.1" cy="223.98" r="2.5"/><circle cx="75.9" cy="225.84" r="2.5"/><circle cx="81.7" cy="227.26" r="2.5"/><circle cx="87.5" cy="228.4" r="2.5"/><circle cx="93.3" cy="229.35" r="2.5"/><circle cx="99.1" cy="230.17" r="2.5"/><circle cx="104.9" cy="230.89" r="2.5"/><circle cx="110.7" cy="231.5" r="2.5"/><circle cx="116.5" cy="232.03" r="2.5"/><circle cx="122.3" cy="232.49" r="2.5"/><circle cx="128.1" cy="232.89" r="2.5"/><circle cx="133.9" cy="233.23" r="2.5"/><circle cx="139.7" cy="233.53" r="2.5"/><circle cx="145.5" cy="233.8" r="2.5"/><circle cx="151.3" cy="234.03" r="2.5"/></g><g fill="none" stroke="#1e3592" stroke-width="1.0"><circle cx="157.1" cy="234.24" r="2.25"/><circle cx="162.9" cy="234.43" r="2.25"/><circle cx="168.7" cy="234.61" r="2.25"/><circle cx="174.5" cy="234.77" r="2.25"/><circle cx="180.3" cy="234.92" r="2.25"/><circle cx="186.1" cy="235.05" r="2.25"/><circle cx="191.9" cy="235.17" r="2.25"/><circle cx="197.7" cy="235.29" r="2.25"/><circle cx="203.5" cy="235.39" r="2.25"/><circle cx="209.3" cy="235.49" r="2.25"/><circle cx="215.1" cy="235.57" r="2.25"/><circle cx="220.9" cy="235.66" r="2.25"/><circle cx="226.7" cy="235.73" r="2.25"/><circle cx="232.5" cy="235.8" r="2.25"/><circle cx="238.3" cy="235.87" r="2.25"/><circle cx="244.1" cy="235.93" r="2.25"/><circle cx="249.9" cy="235.98" r="2.25"/><circle cx="255.7" cy="236.03" r="2.25"/><circle cx="261.5" cy="236.08" r="2.25"/><circle cx="267.3" cy="236.13" r="2.25"/></g><polyline points="41.1,147.7 46.9,197.32 52.7,211.73 58.5,218.51 64.3,222.46 70.1,224.95 75.9,226.67 81.7,227.99 87.5,229.06 93.3,229.96 99.1,230.74 104.9,231.42 110.7,232.02 116.5,232.53 122.3,232.97 128.1,233.36 133.9,233.69 139.7,233.99 145.5,234.25 151.3,234.48 157.1,234.68 162.9,234.88 168.7,235.05 174.5,235.22 180.3,235.37 186.1,235.5 191.9,235.63 197.7,235.74 203.5,235.84 209.3,235.94 215.1,236.03 220.9,236.11 226.7,236.18 232.5,236.25 238.3,236.31 244.1,236.37 249.9,236.42 255.7,236.47 261.5,236.52 267.3,236.56 271.07,236.56" fill="none" stroke="#1a2a84" stroke-width="0.85" stroke-dasharray="3.2 1.4"/><g fill="#1a2a84"><circle cx="46.9" cy="197.32" r="2.5"/><circle cx="52.7" cy="211.73" r="2.5"/><circle cx="58.5" cy="218.51" r="2.5"/><circle cx="64.3" cy="222.46" r="2.5"/><circle cx="70.1" cy="224.95" r="2.5"/><circle cx="75.9" cy="226.67" r="2.5"/><circle cx="81.7" cy="227.99" r="2.5"/><circle cx="87.5" cy="229.06" r="2.5"/><circle cx="93.3" cy="229.96" r="2.5"/><circle cx="99.1" cy="230.74" r="2.5"/><circle cx="104.9" cy="231.42" r="2.5"/><circle cx="110.7" cy="232.02" r="2.5"/><circle cx="116.5" cy="232.53" r="2.5"/><circle cx="122.3" cy="232.97" r="2.5"/><circle cx="128.1" cy="233.36" r="2.5"/><circle cx="133.9" cy="233.69" r="2.5"/><circle cx="139.7" cy="233.99" r="2.5"/><circle cx="145.5" cy="234.25" r="2.5"/><circle cx="151.3" cy="234.48" r="2.5"/></g><g fill="none" stroke="#1a2a84" stroke-width="1.0"><circle cx="157.1" cy="234.68" r="2.25"/><circle cx="162.9" cy="234.88" r="2.25"/><circle cx="168.7" cy="235.05" r="2.25"/><circle cx="174.5" cy="235.22" r="2.25"/><circle cx="180.3" cy="235.37" r="2.25"/><circle cx="186.1" cy="235.5" r="2.25"/><circle cx="191.9" cy="235.63" r="2.25"/><circle cx="197.7" cy="235.74" r="2.25"/><circle cx="203.5" cy="235.84" r="2.25"/><circle cx="209.3" cy="235.94" r="2.25"/><circle cx="215.1" cy="236.03" r="2.25"/><circle cx="220.9" cy="236.11" r="2.25"/><circle cx="226.7" cy="236.18" r="2.25"/><circle cx="232.5" cy="236.25" r="2.25"/><circle cx="238.3" cy="236.31" r="2.25"/><circle cx="244.1" cy="236.37" r="2.25"/><circle cx="249.9" cy="236.42" r="2.25"/><circle cx="255.7" cy="236.47" r="2.25"/><circle cx="261.5" cy="236.52" r="2.25"/><circle cx="267.3" cy="236.56" r="2.25"/></g></g>
<polyline points="313.1,201.08 315.03,198.95 316.97,196.8 318.9,194.61 320.83,192.4 322.76,190.17 324.7,187.92 326.63,185.65 328.56,183.37 330.49,181.08 332.43,178.77 334.36,176.46 336.29,174.15 338.23,171.83 340.16,169.51 342.09,167.2 344.02,164.89 345.96,162.59 347.89,160.3 349.82,158.03 351.76,155.77 353.69,153.53 355.62,151.31 357.55,149.11 359.49,146.94 361.42,144.8 363.35,142.69 365.28,140.62 367.22,138.58 369.15,136.58 371.08,134.61 373.02,132.67 374.95,130.77 376.88,128.91 378.81,127.08 380.75,125.28 382.68,123.52 384.61,121.78 386.55,120.08 388.48,118.42 390.41,116.78 392.34,115.18 394.28,113.61 396.21,112.07 398.14,110.55 400.07,109.07 402.01,107.62 403.94,106.2 405.87,104.81 407.81,103.44 409.74,102.11 411.67,100.8 413.6,99.52 415.54,98.27 417.47,97.04 419.4,95.84 421.34,94.67 423.27,93.53 425.2,92.41 427.13,91.31 429.07,90.24 431,89.19 432.93,88.17 434.86,87.17 436.8,86.2 438.73,85.25 440.66,84.32 442.6,83.42 444.53,82.53 446.46,81.67 448.39,80.83 450.33,80.01 452.26,79.2 454.19,78.42 456.13,77.66 458.06,76.91 459.99,76.19 461.92,75.48 463.86,74.79 465.79,74.11 467.72,73.45 469.65,72.81 471.59,72.18 473.52,71.57 475.45,70.97 477.39,70.38 479.32,69.8 481.25,69.24 483.18,68.68 485.12,68.13 487.05,67.6 488.98,67.07 490.92,66.55 492.85,66.04 494.78,65.54 496.71,65.04 498.65,64.54 500.58,64.06 502.51,63.59 504.44,63.15 506.38,62.71 508.31,62.28 510.24,61.86 512.18,61.45 514.11,61.04 516.04,60.64 517.97,60.24 519.91,59.84 521.84,59.44 523.77,59.05 525.71,58.67 527.64,58.28 529.57,57.91 531.5,57.53 533.44,57.17 535.37,56.8 537.3,56.44 539.23,56.09 541.17,55.74 543.1,55.4" fill="none" stroke="#4353ad" stroke-width="1.25"/>
<polyline points="313.1,201.08 315.03,198.95 316.97,196.8 318.9,194.61 320.83,192.4 322.76,190.17 324.7,187.92 326.63,185.65 328.56,183.37 330.49,181.08 332.43,178.77 334.36,176.46 336.29,174.15 338.23,171.83 340.16,169.51 342.09,167.2 344.02,164.89 345.96,162.59 347.89,160.3 349.82,158.03 351.76,155.77 353.69,153.53 355.62,151.31 357.55,149.11 359.49,146.94 361.42,144.8 363.35,142.69 365.28,140.62 367.22,138.58 369.15,136.58 371.08,134.61 373.02,132.67 374.95,130.77 376.88,128.91 378.81,127.08 380.75,125.28 382.68,123.52 384.61,121.78 386.55,120.08 388.48,118.42 390.41,116.78 392.34,115.18 394.28,113.61 396.21,112.07 398.14,110.55 400.07,109.07 402.01,107.62 403.94,106.2 405.87,104.81 407.81,103.44 409.74,102.11 411.67,100.8 413.6,99.52 415.54,98.27 417.47,97.04 419.4,95.84 421.34,94.67 423.27,93.53 425.2,92.41 427.13,91.31 429.07,90.24 431,89.19 432.93,88.17 434.86,87.17 436.8,86.2 438.73,85.25 440.66,84.32 442.6,83.42 444.53,82.53 446.46,81.67 448.39,80.83 450.33,80.01 452.26,79.2 454.19,78.42 456.13,77.66 458.06,76.91 459.99,76.19 461.92,75.48 463.86,74.79 465.79,74.11 467.72,73.45 469.65,72.81 471.59,72.18 473.52,71.57 475.45,70.97 477.39,70.38 479.32,69.8 481.25,69.24 483.18,68.68 485.12,68.13 487.05,67.6 488.98,67.07 490.92,66.55 492.85,66.04 494.78,65.54 496.71,65.04 498.65,64.54 500.58,64.06 502.51,63.59 504.44,63.15 506.38,62.71 508.31,62.28 510.24,61.86 512.18,61.45 514.11,61.04 516.04,60.64 517.97,60.24 519.91,59.84 521.84,59.44 523.77,59.05 525.71,58.67 527.64,58.28 529.57,57.91 531.5,57.53 533.44,57.17 535.37,56.8 537.3,56.44 539.23,56.09 541.17,55.74 543.1,55.4" fill="none" stroke="#0a0a0a" stroke-width="1.25" stroke-dasharray="1.6 0.8"/>
<polyline points="313.1,225.1 315.03,224.01 316.97,222.85 318.9,221.61 320.83,220.31 322.76,218.94 324.7,217.51 326.63,216.01 328.56,214.46 330.49,212.85 332.43,211.19 334.36,209.47 336.29,207.7 338.23,205.89 340.16,204.03 342.09,202.13 344.02,200.19 345.96,198.21 347.89,196.2 349.82,194.15 351.76,192.07 353.69,189.96 355.62,187.82 357.55,185.66 359.49,183.48 361.42,181.28 363.35,179.06 365.28,176.82 367.22,174.58 369.15,172.32 371.08,170.05 373.02,167.78 374.95,165.5 376.88,163.23 378.81,160.95 380.75,158.68 382.68,156.41 384.61,154.15 386.55,151.9 388.48,149.67 390.41,147.45 392.34,145.24 394.28,143.06 396.21,140.89 398.14,138.75 400.07,136.64 402.01,134.56 403.94,132.5 405.87,130.48 407.81,128.5 409.74,126.55 411.67,124.63 413.6,122.74 415.54,120.89 417.47,119.08 419.4,117.29 421.34,115.54 423.27,113.82 425.2,112.14 427.13,110.48 429.07,108.86 431,107.27 432.93,105.71 434.86,104.18 436.8,102.68 438.73,101.22 440.66,99.78 442.6,98.37 444.53,96.99 446.46,95.64 448.39,94.32 450.33,93.03 452.26,91.77 454.19,90.54 456.13,89.33 458.06,88.16 459.99,87.01 461.92,85.88 463.86,84.79 465.79,83.72 467.72,82.68 469.65,81.66 471.59,80.67 473.52,79.71 475.45,78.77 477.39,77.86 479.32,76.98 481.25,76.15 483.18,75.36 485.12,74.62 487.05,73.91 488.98,73.24 490.92,72.6 492.85,71.99 494.78,71.4 496.71,70.83 498.65,70.26 500.58,69.7 502.51,69.11 504.44,68.48 506.38,67.87 508.31,67.26 510.24,66.67 512.18,66.1 514.11,65.55 516.04,65.02 517.97,64.52 519.91,64.05 521.84,63.59 523.77,63.15 525.71,62.72 527.64,62.3 529.57,61.89 531.5,61.5 533.44,61.12 535.37,60.76 537.3,60.42 539.23,60.09 541.17,59.79 543.1,59.5" fill="none" stroke="#80dbe6" stroke-width="1.25"/>
<polyline points="313.1,225.1 315.03,224.01 316.97,222.85 318.9,221.61 320.83,220.31 322.76,218.94 324.7,217.51 326.63,216.01 328.56,214.46 330.49,212.85 332.43,211.19 334.36,209.47 336.29,207.7 338.23,205.89 340.16,204.03 342.09,202.13 344.02,200.19 345.96,198.21 347.89,196.2 349.82,194.15 351.76,192.07 353.69,189.96 355.62,187.82 357.55,185.66 359.49,183.48 361.42,181.28 363.35,179.06 365.28,176.82 367.22,174.58 369.15,172.32 371.08,170.05 373.02,167.78 374.95,165.5 376.88,163.23 378.81,160.95 380.75,158.68 382.68,156.41 384.61,154.15 386.55,151.9 388.48,149.67 390.41,147.45 392.34,145.24 394.28,143.06 396.21,140.89 398.14,138.75 400.07,136.64 402.01,134.56 403.94,132.5 405.87,130.48 407.81,128.5 409.74,126.55 411.67,124.63 413.6,122.74 415.54,120.89 417.47,119.08 419.4,117.29 421.34,115.54 423.27,113.82 425.2,112.14 427.13,110.48 429.07,108.86 431,107.27 432.93,105.71 434.86,104.18 436.8,102.68 438.73,101.22 440.66,99.78 442.6,98.37 444.53,96.99 446.46,95.64 448.39,94.32 450.33,93.03 452.26,91.77 454.19,90.54 456.13,89.33 458.06,88.16 459.99,87.01 461.92,85.88 463.86,84.79 465.79,83.72 467.72,82.68 469.65,81.66 471.59,80.67 473.52,79.71 475.45,78.77 477.39,77.86 479.32,76.98 481.25,76.15 483.18,75.36 485.12,74.62 487.05,73.91 488.98,73.24 490.92,72.6 492.85,71.99 494.78,71.4 496.71,70.83 498.65,70.26 500.58,69.7 502.51,69.11 504.44,68.48 506.38,67.87 508.31,67.26 510.24,66.67 512.18,66.1 514.11,65.55 516.04,65.02 517.97,64.52 519.91,64.05 521.84,63.59 523.77,63.15 525.71,62.72 527.64,62.3 529.57,61.89 531.5,61.5 533.44,61.12 535.37,60.76 537.3,60.42 539.23,60.09 541.17,59.79 543.1,59.5" fill="none" stroke="#0a0a0a" stroke-width="1.25" stroke-dasharray="1.6 0.8"/>
<polyline points="313.1,231.87 315.03,231.29 316.97,230.62 318.9,229.86 320.83,229.03 322.76,228.12 324.7,227.12 326.63,226.06 328.56,224.92 330.49,223.71 332.43,222.43 334.36,221.08 336.29,219.68 338.23,218.2 340.16,216.68 342.09,215.09 344.02,213.45 345.96,211.75 347.89,210 349.82,208.21 351.76,206.37 353.69,204.48 355.62,202.56 357.55,200.59 359.49,198.58 361.42,196.54 363.35,194.47 365.28,192.37 367.22,190.23 369.15,188.08 371.08,185.89 373.02,183.69 374.95,181.46 376.88,179.22 378.81,176.96 380.75,174.69 382.68,172.4 384.61,170.11 386.55,167.81 388.48,165.51 390.41,163.2 392.34,160.9 394.28,158.59 396.21,156.29 398.14,154 400.07,151.71 402.01,149.44 403.94,147.18 405.87,144.94 407.81,142.71 409.74,140.5 411.67,138.31 413.6,136.13 415.54,133.98 417.47,131.85 419.4,129.75 421.34,127.66 423.27,125.6 425.2,123.57 427.13,121.56 429.07,119.58 431,117.63 432.93,115.7 434.86,113.81 436.8,111.94 438.73,110.11 440.66,108.31 442.6,106.55 444.53,104.81 446.46,103.12 448.39,101.46 450.33,99.84 452.26,98.25 454.19,96.71 456.13,95.2 458.06,93.74 459.99,92.31 461.92,90.93 463.86,89.59 465.79,88.3 467.72,87.06 469.65,85.85 471.59,84.7 473.52,83.58 475.45,82.51 477.39,81.48 479.32,80.51 481.25,79.62 483.18,78.79 485.12,78 487.05,77.25 488.98,76.53 490.92,75.85 492.85,75.18 494.78,74.53 496.71,73.88 498.65,73.23 500.58,72.58 502.51,71.89 504.44,71.17 506.38,70.46 508.31,69.77 510.24,69.09 512.18,68.42 514.11,67.78 516.04,67.15 517.97,66.54 519.91,65.96 521.84,65.39 523.77,64.83 525.71,64.29 527.64,63.75 529.57,63.23 531.5,62.73 533.44,62.23 535.37,61.75 537.3,61.29 539.23,60.84 541.17,60.41 543.1,60" fill="none" stroke="#1e7d45" stroke-width="1.25"/>
<polyline points="313.1,231.87 315.03,231.29 316.97,230.62 318.9,229.86 320.83,229.03 322.76,228.12 324.7,227.12 326.63,226.06 328.56,224.92 330.49,223.71 332.43,222.43 334.36,221.08 336.29,219.68 338.23,218.2 340.16,216.68 342.09,215.09 344.02,213.45 345.96,211.75 347.89,210 349.82,208.21 351.76,206.37 353.69,204.48 355.62,202.56 357.55,200.59 359.49,198.58 361.42,196.54 363.35,194.47 365.28,192.37 367.22,190.23 369.15,188.08 371.08,185.89 373.02,183.69 374.95,181.46 376.88,179.22 378.81,176.96 380.75,174.69 382.68,172.4 384.61,170.11 386.55,167.81 388.48,165.51 390.41,163.2 392.34,160.9 394.28,158.59 396.21,156.29 398.14,154 400.07,151.71 402.01,149.44 403.94,147.18 405.87,144.94 407.81,142.71 409.74,140.5 411.67,138.31 413.6,136.13 415.54,133.98 417.47,131.85 419.4,129.75 421.34,127.66 423.27,125.6 425.2,123.57 427.13,121.56 429.07,119.58 431,117.63 432.93,115.7 434.86,113.81 436.8,111.94 438.73,110.11 440.66,108.31 442.6,106.55 444.53,104.81 446.46,103.12 448.39,101.46 450.33,99.84 452.26,98.25 454.19,96.71 456.13,95.2 458.06,93.74 459.99,92.31 461.92,90.93 463.86,89.59 465.79,88.3 467.72,87.06 469.65,85.85 471.59,84.7 473.52,83.58 475.45,82.51 477.39,81.48 479.32,80.51 481.25,79.62 483.18,78.79 485.12,78 487.05,77.25 488.98,76.53 490.92,75.85 492.85,75.18 494.78,74.53 496.71,73.88 498.65,73.23 500.58,72.58 502.51,71.89 504.44,71.17 506.38,70.46 508.31,69.77 510.24,69.09 512.18,68.42 514.11,67.78 516.04,67.15 517.97,66.54 519.91,65.96 521.84,65.39 523.77,64.83 525.71,64.29 527.64,63.75 529.57,63.23 531.5,62.73 533.44,62.23 535.37,61.75 537.3,61.29 539.23,60.84 541.17,60.41 543.1,60" fill="none" stroke="#0a0a0a" stroke-width="1.25" stroke-dasharray="1.6 0.8"/>
<polyline points="313.1,236.29 315.03,235.83 316.97,235.28 318.9,234.65 320.83,233.94 322.76,233.15 324.7,232.29 326.63,231.35 328.56,230.34 330.49,229.25 332.43,228.1 334.36,226.88 336.29,225.6 338.23,224.26 340.16,222.85 342.09,221.39 344.02,219.87 345.96,218.29 347.89,216.66 349.82,214.98 351.76,213.25 353.69,211.48 355.62,209.66 357.55,207.8 359.49,205.9 361.42,203.96 363.35,201.98 365.28,199.97 367.22,197.92 369.15,195.85 371.08,193.74 373.02,191.61 374.95,189.46 376.88,187.28 378.81,185.08 380.75,182.86 382.68,180.63 384.61,178.38 386.55,176.12 388.48,173.84 390.41,171.56 392.34,169.27 394.28,166.98 396.21,164.68 398.14,162.39 400.07,160.09 402.01,157.8 403.94,155.51 405.87,153.23 407.81,150.95 409.74,148.68 411.67,146.42 413.6,144.17 415.54,141.93 417.47,139.7 419.4,137.49 421.34,135.29 423.27,133.1 425.2,130.93 427.13,128.79 429.07,126.66 431,124.55 432.93,122.46 434.86,120.4 436.8,118.36 438.73,116.34 440.66,114.35 442.6,112.39 444.53,110.46 446.46,108.56 448.39,106.69 450.33,104.85 452.26,103.05 454.19,101.29 456.13,99.56 458.06,97.89 459.99,96.25 461.92,94.66 463.86,93.12 465.79,91.64 467.72,90.2 469.65,88.82 471.59,87.5 473.52,86.22 475.45,85 477.39,83.82 479.32,82.69 481.25,81.6 483.18,80.59 485.12,79.64 487.05,78.76 488.98,77.93 490.92,77.15 492.85,76.4 494.78,75.68 496.71,74.96 498.65,74.25 500.58,73.53 502.51,72.79 504.44,72.03 506.38,71.28 508.31,70.54 510.24,69.83 512.18,69.13 514.11,68.45 516.04,67.8 517.97,67.17 519.91,66.56 521.84,65.97 523.77,65.4 525.71,64.84 527.64,64.29 529.57,63.76 531.5,63.24 533.44,62.74 535.37,62.26 537.3,61.79 539.23,61.34 541.17,60.91 543.1,60.5" fill="none" stroke="#fba52a" stroke-width="1.25"/>
<polyline points="313.1,236.29 315.03,235.83 316.97,235.28 318.9,234.65 320.83,233.94 322.76,233.15 324.7,232.29 326.63,231.35 328.56,230.34 330.49,229.25 332.43,228.1 334.36,226.88 336.29,225.6 338.23,224.26 340.16,222.85 342.09,221.39 344.02,219.87 345.96,218.29 347.89,216.66 349.82,214.98 351.76,213.25 353.69,211.48 355.62,209.66 357.55,207.8 359.49,205.9 361.42,203.96 363.35,201.98 365.28,199.97 367.22,197.92 369.15,195.85 371.08,193.74 373.02,191.61 374.95,189.46 376.88,187.28 378.81,185.08 380.75,182.86 382.68,180.63 384.61,178.38 386.55,176.12 388.48,173.84 390.41,171.56 392.34,169.27 394.28,166.98 396.21,164.68 398.14,162.39 400.07,160.09 402.01,157.8 403.94,155.51 405.87,153.23 407.81,150.95 409.74,148.68 411.67,146.42 413.6,144.17 415.54,141.93 417.47,139.7 419.4,137.49 421.34,135.29 423.27,133.1 425.2,130.93 427.13,128.79 429.07,126.66 431,124.55 432.93,122.46 434.86,120.4 436.8,118.36 438.73,116.34 440.66,114.35 442.6,112.39 444.53,110.46 446.46,108.56 448.39,106.69 450.33,104.85 452.26,103.05 454.19,101.29 456.13,99.56 458.06,97.89 459.99,96.25 461.92,94.66 463.86,93.12 465.79,91.64 467.72,90.2 469.65,88.82 471.59,87.5 473.52,86.22 475.45,85 477.39,83.82 479.32,82.69 481.25,81.6 483.18,80.59 485.12,79.64 487.05,78.76 488.98,77.93 490.92,77.15 492.85,76.4 494.78,75.68 496.71,74.96 498.65,74.25 500.58,73.53 502.51,72.79 504.44,72.03 506.38,71.28 508.31,70.54 510.24,69.83 512.18,69.13 514.11,68.45 516.04,67.8 517.97,67.17 519.91,66.56 521.84,65.97 523.77,65.4 525.71,64.84 527.64,64.29 529.57,63.76 531.5,63.24 533.44,62.74 535.37,62.26 537.3,61.79 539.23,61.34 541.17,60.91 543.1,60.5" fill="none" stroke="#0a0a0a" stroke-width="1.25" stroke-dasharray="1.6 0.8"/>
<polyline points="313.1,238.33 315.03,237.88 316.97,237.35 318.9,236.74 320.83,236.06 322.76,235.31 324.7,234.49 326.63,233.6 328.56,232.64 330.49,231.61 332.43,230.52 334.36,229.37 336.29,228.16 338.23,226.9 340.16,225.57 342.09,224.19 344.02,222.76 345.96,221.27 347.89,219.73 349.82,218.15 351.76,216.52 353.69,214.84 355.62,213.12 357.55,211.36 359.49,209.56 361.42,207.72 363.35,205.85 365.28,203.94 367.22,202 369.15,200.02 371.08,198.02 373.02,195.99 374.95,193.93 376.88,191.85 378.81,189.74 380.75,187.62 382.68,185.47 384.61,183.31 386.55,181.13 388.48,178.94 390.41,176.73 392.34,174.52 394.28,172.29 396.21,170.06 398.14,167.82 400.07,165.58 402.01,163.34 403.94,161.1 405.87,158.85 407.81,156.61 409.74,154.37 411.67,152.14 413.6,149.91 415.54,147.68 417.47,145.46 419.4,143.25 421.34,141.03 423.27,138.83 425.2,136.63 427.13,134.44 429.07,132.26 431,130.08 432.93,127.91 434.86,125.76 436.8,123.61 438.73,121.47 440.66,119.34 442.6,117.22 444.53,115.11 446.46,113.02 448.39,110.93 450.33,108.88 452.26,106.84 454.19,104.84 456.13,102.87 458.06,100.95 459.99,99.07 461.92,97.25 463.86,95.48 465.79,93.78 467.72,92.14 469.65,90.58 471.59,89.09 473.52,87.66 475.45,86.31 477.39,85.01 479.32,83.77 481.25,82.61 483.18,81.54 485.12,80.56 487.05,79.65 488.98,78.81 490.92,78.02 492.85,77.27 494.78,76.55 496.71,75.83 498.65,75.1 500.58,74.36 502.51,73.59 504.44,72.78 506.38,71.99 508.31,71.21 510.24,70.46 512.18,69.73 514.11,69.02 516.04,68.34 517.97,67.68 519.91,67.06 521.84,66.46 523.77,65.88 525.71,65.31 527.64,64.76 529.57,64.22 531.5,63.7 533.44,63.2 535.37,62.71 537.3,62.25 539.23,61.81 541.17,61.39 543.1,61" fill="none" stroke="#ef4f57" stroke-width="1.25"/>
<polyline points="313.1,238.33 315.03,237.88 316.97,237.35 318.9,236.74 320.83,236.06 322.76,235.31 324.7,234.49 326.63,233.6 328.56,232.64 330.49,231.61 332.43,230.52 334.36,229.37 336.29,228.16 338.23,226.9 340.16,225.57 342.09,224.19 344.02,222.76 345.96,221.27 347.89,219.73 349.82,218.15 351.76,216.52 353.69,214.84 355.62,213.12 357.55,211.36 359.49,209.56 361.42,207.72 363.35,205.85 365.28,203.94 367.22,202 369.15,200.02 371.08,198.02 373.02,195.99 374.95,193.93 376.88,191.85 378.81,189.74 380.75,187.62 382.68,185.47 384.61,183.31 386.55,181.13 388.48,178.94 390.41,176.73 392.34,174.52 394.28,172.29 396.21,170.06 398.14,167.82 400.07,165.58 402.01,163.34 403.94,161.1 405.87,158.85 407.81,156.61 409.74,154.37 411.67,152.14 413.6,149.91 415.54,147.68 417.47,145.46 419.4,143.25 421.34,141.03 423.27,138.83 425.2,136.63 427.13,134.44 429.07,132.26 431,130.08 432.93,127.91 434.86,125.76 436.8,123.61 438.73,121.47 440.66,119.34 442.6,117.22 444.53,115.11 446.46,113.02 448.39,110.93 450.33,108.88 452.26,106.84 454.19,104.84 456.13,102.87 458.06,100.95 459.99,99.07 461.92,97.25 463.86,95.48 465.79,93.78 467.72,92.14 469.65,90.58 471.59,89.09 473.52,87.66 475.45,86.31 477.39,85.01 479.32,83.77 481.25,82.61 483.18,81.54 485.12,80.56 487.05,79.65 488.98,78.81 490.92,78.02 492.85,77.27 494.78,76.55 496.71,75.83 498.65,75.1 500.58,74.36 502.51,73.59 504.44,72.78 506.38,71.99 508.31,71.21 510.24,70.46 512.18,69.73 514.11,69.02 516.04,68.34 517.97,67.68 519.91,67.06 521.84,66.46 523.77,65.88 525.71,65.31 527.64,64.76 529.57,64.22 531.5,63.7 533.44,63.2 535.37,62.71 537.3,62.25 539.23,61.81 541.17,61.39 543.1,61" fill="none" stroke="#0a0a0a" stroke-width="1.25" stroke-dasharray="1.6 0.8"/>
<polyline points="313.1,239.64 315.03,239.34 316.97,238.96 318.9,238.49 320.83,237.94 322.76,237.31 324.7,236.61 326.63,235.83 328.56,234.97 330.49,234.05 332.43,233.05 334.36,231.99 336.29,230.86 338.23,229.67 340.16,228.42 342.09,227.11 344.02,225.74 345.96,224.31 347.89,222.83 349.82,221.3 351.76,219.72 353.69,218.09 355.62,216.42 357.55,214.7 359.49,212.95 361.42,211.15 363.35,209.31 365.28,207.44 367.22,205.54 369.15,203.6 371.08,201.63 373.02,199.64 374.95,197.62 376.88,195.58 378.81,193.51 380.75,191.42 382.68,189.32 384.61,187.2 386.55,185.07 388.48,182.92 390.41,180.77 392.34,178.6 394.28,176.44 396.21,174.26 398.14,172.09 400.07,169.91 402.01,167.74 403.94,165.57 405.87,163.41 407.81,161.25 409.74,159.1 411.67,156.95 413.6,154.81 415.54,152.67 417.47,150.53 419.4,148.39 421.34,146.25 423.27,144.11 425.2,141.97 427.13,139.82 429.07,137.67 431,135.51 432.93,133.35 434.86,131.18 436.8,129 438.73,126.8 440.66,124.6 442.6,122.39 444.53,120.16 446.46,117.92 448.39,115.67 450.33,113.42 452.26,111.18 454.19,108.96 456.13,106.77 458.06,104.62 459.99,102.52 461.92,100.47 463.86,98.49 465.79,96.58 467.72,94.76 469.65,93.03 471.59,91.38 473.52,89.83 475.45,88.35 477.39,86.95 479.32,85.63 481.25,84.39 483.18,83.25 485.12,82.21 487.05,81.24 488.98,80.34 490.92,79.5 492.85,78.69 494.78,77.9 496.71,77.11 498.65,76.3 500.58,75.48 502.51,74.63 504.44,73.76 506.38,72.91 508.31,72.08 510.24,71.27 512.18,70.49 514.11,69.74 516.04,69.01 517.97,68.32 519.91,67.66 521.84,67.03 523.77,66.42 525.71,65.81 527.64,65.23 529.57,64.66 531.5,64.11 533.44,63.59 535.37,63.08 537.3,62.6 539.23,62.14 541.17,61.71 543.1,61.3" fill="none" stroke="#bd68c4" stroke-width="1.25"/>
<polyline points="313.1,239.64 315.03,239.34 316.97,238.96 318.9,238.49 320.83,237.94 322.76,237.31 324.7,236.61 326.63,235.83 328.56,234.97 330.49,234.05 332.43,233.05 334.36,231.99 336.29,230.86 338.23,229.67 340.16,228.42 342.09,227.11 344.02,225.74 345.96,224.31 347.89,222.83 349.82,221.3 351.76,219.72 353.69,218.09 355.62,216.42 357.55,214.7 359.49,212.95 361.42,211.15 363.35,209.31 365.28,207.44 367.22,205.54 369.15,203.6 371.08,201.63 373.02,199.64 374.95,197.62 376.88,195.58 378.81,193.51 380.75,191.42 382.68,189.32 384.61,187.2 386.55,185.07 388.48,182.92 390.41,180.77 392.34,178.6 394.28,176.44 396.21,174.26 398.14,172.09 400.07,169.91 402.01,167.74 403.94,165.57 405.87,163.41 407.81,161.25 409.74,159.1 411.67,156.95 413.6,154.81 415.54,152.67 417.47,150.53 419.4,148.39 421.34,146.25 423.27,144.11 425.2,141.97 427.13,139.82 429.07,137.67 431,135.51 432.93,133.35 434.86,131.18 436.8,129 438.73,126.8 440.66,124.6 442.6,122.39 444.53,120.16 446.46,117.92 448.39,115.67 450.33,113.42 452.26,111.18 454.19,108.96 456.13,106.77 458.06,104.62 459.99,102.52 461.92,100.47 463.86,98.49 465.79,96.58 467.72,94.76 469.65,93.03 471.59,91.38 473.52,89.83 475.45,88.35 477.39,86.95 479.32,85.63 481.25,84.39 483.18,83.25 485.12,82.21 487.05,81.24 488.98,80.34 490.92,79.5 492.85,78.69 494.78,77.9 496.71,77.11 498.65,76.3 500.58,75.48 502.51,74.63 504.44,73.76 506.38,72.91 508.31,72.08 510.24,71.27 512.18,70.49 514.11,69.74 516.04,69.01 517.97,68.32 519.91,67.66 521.84,67.03 523.77,66.42 525.71,65.81 527.64,65.23 529.57,64.66 531.5,64.11 533.44,63.59 535.37,63.08 537.3,62.6 539.23,62.14 541.17,61.71 543.1,61.3" fill="none" stroke="#0a0a0a" stroke-width="1.25" stroke-dasharray="1.6 0.8"/>
<rect x="35.4" y="5.2" width="237.1" height="236.1" fill="none" stroke="#444" stroke-width="1.0"/>
<rect x="313.1" y="14.5" width="230.1" height="228.5" fill="none" stroke="#444" stroke-width="1.0"/>
<g stroke="#444" stroke-width="1.0"><line x1="35.3" y1="241.3" x2="35.3" y2="243.6"/><line x1="64.3" y1="241.3" x2="64.3" y2="243.6"/><line x1="93.3" y1="241.3" x2="93.3" y2="243.6"/><line x1="122.3" y1="241.3" x2="122.3" y2="243.6"/><line x1="151.3" y1="241.3" x2="151.3" y2="243.6"/><line x1="180.3" y1="241.3" x2="180.3" y2="243.6"/><line x1="209.3" y1="241.3" x2="209.3" y2="243.6"/><line x1="238.3" y1="241.3" x2="238.3" y2="243.6"/><line x1="267.3" y1="241.3" x2="267.3" y2="243.6"/><line x1="32.4" y1="7.45" x2="35.4" y2="7.45"/><line x1="32.4" y1="54.2" x2="35.4" y2="54.2"/><line x1="32.4" y1="100.95" x2="35.4" y2="100.95"/><line x1="32.4" y1="147.7" x2="35.4" y2="147.7"/><line x1="32.4" y1="194.45" x2="35.4" y2="194.45"/><line x1="32.4" y1="241.2" x2="35.4" y2="241.2"/></g>
<g stroke="#444" stroke-width="1.0"><line x1="313.1" y1="243" x2="313.1" y2="245.3"/><line x1="359.1" y1="243" x2="359.1" y2="245.3"/><line x1="405.1" y1="243" x2="405.1" y2="245.3"/><line x1="451.1" y1="243" x2="451.1" y2="245.3"/><line x1="497.1" y1="243" x2="497.1" y2="245.3"/><line x1="543.1" y1="243" x2="543.1" y2="245.3"/><line x1="310.1" y1="14.5" x2="313.1" y2="14.5"/><line x1="310.1" y1="60.2" x2="313.1" y2="60.2"/><line x1="310.1" y1="105.9" x2="313.1" y2="105.9"/><line x1="310.1" y1="151.6" x2="313.1" y2="151.6"/><line x1="310.1" y1="197.3" x2="313.1" y2="197.3"/><line x1="310.1" y1="243" x2="313.1" y2="243"/></g>
<g font-family="'Liberation Serif', 'Times New Roman', serif" font-size="8.3" fill="#111" stroke="#111" stroke-width="0.22"><text x="29.9" y="10.35" text-anchor="end">0.0</text><text x="308.6" y="17.4" text-anchor="end">0.0</text><text x="29.9" y="57.1" text-anchor="end">−0.2</text><text x="308.6" y="63.1" text-anchor="end">−0.2</text><text x="29.9" y="103.85" text-anchor="end">−0.4</text><text x="308.6" y="108.8" text-anchor="end">−0.4</text><text x="29.9" y="150.6" text-anchor="end">−0.6</text><text x="308.6" y="154.5" text-anchor="end">−0.6</text><text x="29.9" y="197.35" text-anchor="end">−0.8</text><text x="308.6" y="200.2" text-anchor="end">−0.8</text><text x="29.9" y="244.1" text-anchor="end">−1.0</text><text x="308.6" y="245.9" text-anchor="end">−1.0</text><text x="35.3" y="251.8" text-anchor="middle">0</text><text x="64.3" y="251.8" text-anchor="middle">5</text><text x="93.3" y="251.8" text-anchor="middle">10</text><text x="122.3" y="251.8" text-anchor="middle">15</text><text x="151.3" y="251.8" text-anchor="middle">20</text><text x="180.3" y="251.8" text-anchor="middle">25</text><text x="209.3" y="251.8" text-anchor="middle">30</text><text x="238.3" y="251.8" text-anchor="middle">35</text><text x="267.3" y="251.8" text-anchor="middle">40</text><text x="313.1" y="253.6" text-anchor="middle">0.5</text><text x="359.1" y="253.6" text-anchor="middle">1.0</text><text x="405.1" y="253.6" text-anchor="middle">1.5</text><text x="451.1" y="253.6" text-anchor="middle">2.0</text><text x="497.1" y="253.6" text-anchor="middle">2.5</text><text x="543.1" y="253.6" text-anchor="middle">3.0</text></g>
<text x="154.1" y="263.2" text-anchor="middle" font-family="'Liberation Serif', 'Times New Roman', serif" font-size="9.95" fill="#111" stroke="#111" stroke-width="0.2">System size N (-)</text>
<text x="428.6" y="264.9" text-anchor="middle" font-family="'Liberation Serif', 'Times New Roman', serif" font-size="9.6" fill="#111" stroke="#111" stroke-width="0.2">Temperature k<tspan font-size="6.6" dy="1.6">B</tspan><tspan dy="-1.6">T/J (-)</tspan></text>
<text transform="translate(10.2,124.3) rotate(-90)" text-anchor="middle" font-family="'DejaVu Sans', 'Liberation Sans', sans-serif" font-size="8.8" fill="#111" stroke="#111" stroke-width="0.12">ΔA<tspan font-size="6.5" dy="1.8">bond</tspan><tspan dy="-1.8"> / J (-)</tspan></text>
<text transform="translate(287.5,127.8) rotate(-90)" text-anchor="middle" font-family="'DejaVu Sans', 'Liberation Sans', sans-serif" font-size="8.8" fill="#111" stroke="#111" stroke-width="0.12">ΔA<tspan font-size="6.5" dy="1.8">bond</tspan><tspan dy="-1.8"> / J (-)</tspan></text>
<text x="138.5" y="285.7" text-anchor="middle" font-family="'Liberation Serif', 'Times New Roman', serif" font-size="14.6" fill="#111" stroke="#111" stroke-width="0.25">(a)</text>
<text x="415.6" y="285.7" text-anchor="middle" font-family="'Liberation Serif', 'Times New Roman', serif" font-size="14.6" fill="#111" stroke="#111" stroke-width="0.25">(b)</text>
<rect x="316.1" y="17.7" width="48.3" height="61.2" rx="1.6" ry="1.6" fill="#fff" fill-opacity="0.85" stroke="#d6d6d6" stroke-width="0.8"/>
<line x1="318.8" y1="23" x2="333.8" y2="23" stroke="#4353ad" stroke-width="1.3"/><text x="338.7" y="25.9" font-family="'Liberation Serif', 'Times New Roman', serif" font-size="7.3" textLength="10.2" lengthAdjust="spacingAndGlyphs" fill="#111" stroke="#111" stroke-width="0.15">2x2</text><line x1="318.8" y1="32.8" x2="333.8" y2="32.8" stroke="#80dbe6" stroke-width="1.3"/><text x="338.7" y="35.7" font-family="'Liberation Serif', 'Times New Roman', serif" font-size="7.3" textLength="10.2" lengthAdjust="spacingAndGlyphs" fill="#111" stroke="#111" stroke-width="0.15">5x5</text><line x1="318.8" y1="42.5" x2="333.8" y2="42.5" stroke="#1e7d45" stroke-width="1.3"/><text x="338.7" y="45.4" font-family="'Liberation Serif', 'Times New Roman', serif" font-size="7.3" textLength="16.8" lengthAdjust="spacingAndGlyphs" fill="#111" stroke="#111" stroke-width="0.15">10x10</text><line x1="318.8" y1="52.2" x2="333.8" y2="52.2" stroke="#fba52a" stroke-width="1.3"/><text x="338.7" y="55.1" font-family="'Liberation Serif', 'Times New Roman', serif" font-size="7.3" textLength="16.8" lengthAdjust="spacingAndGlyphs" fill="#111" stroke="#111" stroke-width="0.15">20x20</text><line x1="318.8" y1="61.9" x2="333.8" y2="61.9" stroke="#ef4f57" stroke-width="1.3"/><text x="338.7" y="64.8" font-family="'Liberation Serif', 'Times New Roman', serif" font-size="7.3" textLength="16.8" lengthAdjust="spacingAndGlyphs" fill="#111" stroke="#111" stroke-width="0.15">40x40</text><line x1="318.8" y1="71.8" x2="333.8" y2="71.8" stroke="#bd68c4" stroke-width="1.3"/><text x="338.7" y="74.7" font-family="'Liberation Serif', 'Times New Roman', serif" font-size="7.3" textLength="23.1" lengthAdjust="spacingAndGlyphs" fill="#111" stroke="#111" stroke-width="0.15">Onsager</text>
</svg></body></html>
